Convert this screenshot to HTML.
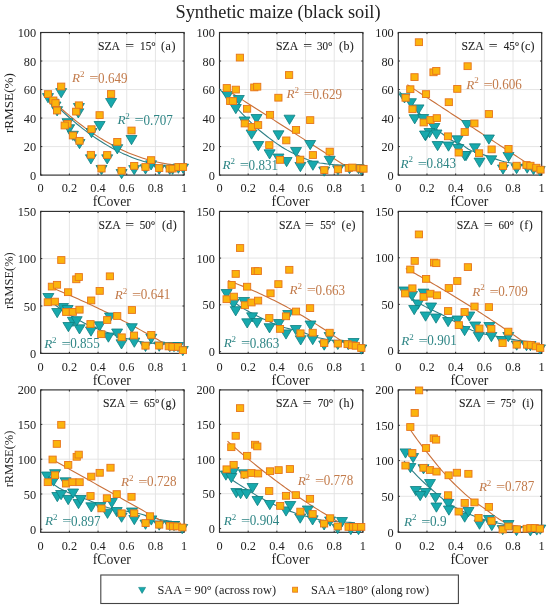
<!DOCTYPE html><html><head><meta charset="utf-8"><style>html,body{margin:0;padding:0;background:#fff;}svg{display:block;filter:blur(0.35px);}text{font-family:"Liberation Serif",serif;}</style></head><body>
<svg width="550" height="608" viewBox="0 0 550 608">
<rect x="0" y="0" width="550" height="608" fill="#fff"/>
<text x="175.5" y="17.6" font-size="18.6" fill="#222" textLength="205" lengthAdjust="spacingAndGlyphs">Synthetic maize (black soil)</text>
<line x1="69.38" y1="32.5" x2="69.38" y2="175.1" stroke="#e2e2e2" stroke-width="0.9"/>
<line x1="98.06" y1="32.5" x2="98.06" y2="175.1" stroke="#e2e2e2" stroke-width="0.9"/>
<line x1="126.74" y1="32.5" x2="126.74" y2="175.1" stroke="#e2e2e2" stroke-width="0.9"/>
<line x1="155.42" y1="32.5" x2="155.42" y2="175.1" stroke="#e2e2e2" stroke-width="0.9"/>
<line x1="40.7" y1="146.58" x2="184.1" y2="146.58" stroke="#e2e2e2" stroke-width="0.9"/>
<line x1="40.7" y1="118.06" x2="184.1" y2="118.06" stroke="#e2e2e2" stroke-width="0.9"/>
<line x1="40.7" y1="89.54" x2="184.1" y2="89.54" stroke="#e2e2e2" stroke-width="0.9"/>
<line x1="40.7" y1="61.02" x2="184.1" y2="61.02" stroke="#e2e2e2" stroke-width="0.9"/>
<line x1="40.7" y1="175.1" x2="40.7" y2="173.5" stroke="#2e2e2e" stroke-width="1"/>
<line x1="40.7" y1="32.5" x2="40.7" y2="34.1" stroke="#2e2e2e" stroke-width="1"/>
<line x1="69.38" y1="175.1" x2="69.38" y2="173.5" stroke="#2e2e2e" stroke-width="1"/>
<line x1="69.38" y1="32.5" x2="69.38" y2="34.1" stroke="#2e2e2e" stroke-width="1"/>
<line x1="98.06" y1="175.1" x2="98.06" y2="173.5" stroke="#2e2e2e" stroke-width="1"/>
<line x1="98.06" y1="32.5" x2="98.06" y2="34.1" stroke="#2e2e2e" stroke-width="1"/>
<line x1="126.74" y1="175.1" x2="126.74" y2="173.5" stroke="#2e2e2e" stroke-width="1"/>
<line x1="126.74" y1="32.5" x2="126.74" y2="34.1" stroke="#2e2e2e" stroke-width="1"/>
<line x1="155.42" y1="175.1" x2="155.42" y2="173.5" stroke="#2e2e2e" stroke-width="1"/>
<line x1="155.42" y1="32.5" x2="155.42" y2="34.1" stroke="#2e2e2e" stroke-width="1"/>
<line x1="184.1" y1="175.1" x2="184.1" y2="173.5" stroke="#2e2e2e" stroke-width="1"/>
<line x1="184.1" y1="32.5" x2="184.1" y2="34.1" stroke="#2e2e2e" stroke-width="1"/>
<line x1="40.7" y1="175.1" x2="42.3" y2="175.1" stroke="#2e2e2e" stroke-width="1"/>
<line x1="184.1" y1="175.1" x2="182.5" y2="175.1" stroke="#2e2e2e" stroke-width="1"/>
<line x1="40.7" y1="146.58" x2="42.3" y2="146.58" stroke="#2e2e2e" stroke-width="1"/>
<line x1="184.1" y1="146.58" x2="182.5" y2="146.58" stroke="#2e2e2e" stroke-width="1"/>
<line x1="40.7" y1="118.06" x2="42.3" y2="118.06" stroke="#2e2e2e" stroke-width="1"/>
<line x1="184.1" y1="118.06" x2="182.5" y2="118.06" stroke="#2e2e2e" stroke-width="1"/>
<line x1="40.7" y1="89.54" x2="42.3" y2="89.54" stroke="#2e2e2e" stroke-width="1"/>
<line x1="184.1" y1="89.54" x2="182.5" y2="89.54" stroke="#2e2e2e" stroke-width="1"/>
<line x1="40.7" y1="61.02" x2="42.3" y2="61.02" stroke="#2e2e2e" stroke-width="1"/>
<line x1="184.1" y1="61.02" x2="182.5" y2="61.02" stroke="#2e2e2e" stroke-width="1"/>
<line x1="40.7" y1="32.5" x2="42.3" y2="32.5" stroke="#2e2e2e" stroke-width="1"/>
<line x1="184.1" y1="32.5" x2="182.5" y2="32.5" stroke="#2e2e2e" stroke-width="1"/>
<text x="40.7" y="192.4" font-size="12.3" fill="#222" text-anchor="middle">0</text>
<text x="69.38" y="192.4" font-size="12.3" fill="#222" text-anchor="middle">0.2</text>
<text x="98.06" y="192.4" font-size="12.3" fill="#222" text-anchor="middle">0.4</text>
<text x="126.74" y="192.4" font-size="12.3" fill="#222" text-anchor="middle">0.6</text>
<text x="155.42" y="192.4" font-size="12.3" fill="#222" text-anchor="middle">0.8</text>
<text x="184.1" y="192.4" font-size="12.3" fill="#222" text-anchor="middle">1</text>
<text x="36.1" y="179.6" font-size="12.3" fill="#222" text-anchor="end">0</text>
<text x="36.1" y="151.08" font-size="12.3" fill="#222" text-anchor="end">20</text>
<text x="36.1" y="122.56" font-size="12.3" fill="#222" text-anchor="end">40</text>
<text x="36.1" y="94.04" font-size="12.3" fill="#222" text-anchor="end">60</text>
<text x="36.1" y="65.52" font-size="12.3" fill="#222" text-anchor="end">80</text>
<text x="36.1" y="37" font-size="12.3" fill="#222" text-anchor="end">100</text>
<text x="111.8" y="206.3" font-size="13.7" fill="#222" text-anchor="middle">fCover</text>
<text transform="translate(13.2,133.1) rotate(-90)" font-size="13.17" fill="#222" textLength="60" lengthAdjust="spacingAndGlyphs">rRMSE(%)</text>
<rect x="40.7" y="32.5" width="143.4" height="142.6" fill="none" stroke="#2e2e2e" stroke-width="1.15"/>
<polyline points="47.01,96 49.75,98.85 52.49,101.65 55.24,104.39 57.98,107.08 60.72,109.7 63.46,112.26 66.2,114.77 68.94,117.22 71.69,119.61 74.43,121.94 77.17,124.21 79.91,126.43 82.65,128.58 85.39,130.68 88.14,132.72 90.88,134.7 93.62,136.62 96.36,138.49 99.1,140.29 101.85,142.04 104.59,143.72 107.33,145.35 110.07,146.93 112.81,148.44 115.55,149.89 118.3,151.29 121.04,152.62 123.78,153.9 126.52,155.12 129.26,156.29 132.01,157.39 134.75,158.43 137.49,159.42 140.23,160.35 142.97,161.22 145.71,162.03 148.46,162.78 151.2,163.47 153.94,164.11 156.68,164.69 159.42,165.2 162.17,165.66 164.91,166.07 167.65,166.41 170.39,166.69 173.13,166.92 175.87,167.09 178.62,167.2 181.36,167.25 184.1,167.24" fill="none" stroke="#2d7f86" stroke-width="1.1"/>
<polyline points="47.01,95.06 49.75,97.76 52.49,100.41 55.24,103.01 57.98,105.55 60.72,108.04 63.46,110.47 66.2,112.86 68.94,115.19 71.69,117.47 74.43,119.7 77.17,121.87 79.91,123.99 82.65,126.06 85.39,128.07 88.14,130.04 90.88,131.95 93.62,133.8 96.36,135.61 99.1,137.36 101.85,139.06 104.59,140.7 107.33,142.3 110.07,143.84 112.81,145.32 115.55,146.76 118.3,148.14 121.04,149.47 123.78,150.75 126.52,151.97 129.26,153.14 132.01,154.26 134.75,155.33 137.49,156.34 140.23,157.3 142.97,158.21 145.71,159.07 148.46,159.87 151.2,160.62 153.94,161.31 156.68,161.96 159.42,162.55 162.17,163.09 164.91,163.57 167.65,164.01 170.39,164.39 173.13,164.72 175.87,164.99 178.62,165.21 181.36,165.38 184.1,165.5" fill="none" stroke="#c9703a" stroke-width="1.1"/>
<path d="M42.5,93.6H53.5L48,102.8Z" fill="#17a9ad" stroke="#0f7f80" stroke-width="0.8"/>
<path d="M55.7,88.6H66.7L61.2,97.8Z" fill="#17a9ad" stroke="#0f7f80" stroke-width="0.8"/>
<path d="M47.8,99.2H58.8L53.3,108.4Z" fill="#17a9ad" stroke="#0f7f80" stroke-width="0.8"/>
<path d="M50,102H61L55.5,111.2Z" fill="#17a9ad" stroke="#0f7f80" stroke-width="0.8"/>
<path d="M51.6,106.7H62.6L57.1,115.9Z" fill="#17a9ad" stroke="#0f7f80" stroke-width="0.8"/>
<path d="M73.4,103.5H84.4L78.9,112.7Z" fill="#17a9ad" stroke="#0f7f80" stroke-width="0.8"/>
<path d="M72.8,108.8H83.8L78.3,118Z" fill="#17a9ad" stroke="#0f7f80" stroke-width="0.8"/>
<path d="M62,118.7H73L67.5,127.9Z" fill="#17a9ad" stroke="#0f7f80" stroke-width="0.8"/>
<path d="M63.7,124.7H74.7L69.2,133.9Z" fill="#17a9ad" stroke="#0f7f80" stroke-width="0.8"/>
<path d="M67.4,131.3H78.4L72.9,140.5Z" fill="#17a9ad" stroke="#0f7f80" stroke-width="0.8"/>
<path d="M74,139.5H85L79.5,148.7Z" fill="#17a9ad" stroke="#0f7f80" stroke-width="0.8"/>
<path d="M86,128.5H97L91.5,137.7Z" fill="#17a9ad" stroke="#0f7f80" stroke-width="0.8"/>
<path d="M94.1,121.5H105.1L99.6,130.7Z" fill="#17a9ad" stroke="#0f7f80" stroke-width="0.8"/>
<path d="M105.6,98.5H116.6L111.1,107.7Z" fill="#17a9ad" stroke="#0f7f80" stroke-width="0.8"/>
<path d="M126,135.5H137L131.5,144.7Z" fill="#17a9ad" stroke="#0f7f80" stroke-width="0.8"/>
<path d="M111.8,144.7H122.8L117.3,153.9Z" fill="#17a9ad" stroke="#0f7f80" stroke-width="0.8"/>
<path d="M85.4,154.8H96.4L90.9,164Z" fill="#17a9ad" stroke="#0f7f80" stroke-width="0.8"/>
<path d="M101.7,154.8H112.7L107.2,164Z" fill="#17a9ad" stroke="#0f7f80" stroke-width="0.8"/>
<path d="M96,165.5H107L101.5,174.7Z" fill="#17a9ad" stroke="#0f7f80" stroke-width="0.8"/>
<path d="M116.1,169.5H127.1L121.6,178.7Z" fill="#17a9ad" stroke="#0f7f80" stroke-width="0.8"/>
<path d="M128.7,165.6H139.7L134.2,174.8Z" fill="#17a9ad" stroke="#0f7f80" stroke-width="0.8"/>
<path d="M140,164.8H151L145.5,174Z" fill="#17a9ad" stroke="#0f7f80" stroke-width="0.8"/>
<path d="M145.6,160.8H156.6L151.1,170Z" fill="#17a9ad" stroke="#0f7f80" stroke-width="0.8"/>
<path d="M153.7,165.2H164.7L159.2,174.4Z" fill="#17a9ad" stroke="#0f7f80" stroke-width="0.8"/>
<path d="M164.2,165.2H175.2L169.7,174.4Z" fill="#17a9ad" stroke="#0f7f80" stroke-width="0.8"/>
<path d="M167.1,165.2H178.1L172.6,174.4Z" fill="#17a9ad" stroke="#0f7f80" stroke-width="0.8"/>
<path d="M172.9,164.1H183.9L178.4,173.3Z" fill="#17a9ad" stroke="#0f7f80" stroke-width="0.8"/>
<path d="M177.5,164.1H188.5L183,173.3Z" fill="#17a9ad" stroke="#0f7f80" stroke-width="0.8"/>
<rect x="44.4" y="90.7" width="7.2" height="6.8" fill="#fbb40c" stroke="#e7741c" stroke-width="0.9"/>
<rect x="57.6" y="83.1" width="7.2" height="6.8" fill="#fbb40c" stroke="#e7741c" stroke-width="0.9"/>
<rect x="49.7" y="97" width="7.2" height="6.8" fill="#fbb40c" stroke="#e7741c" stroke-width="0.9"/>
<rect x="51.9" y="99.7" width="7.2" height="6.8" fill="#fbb40c" stroke="#e7741c" stroke-width="0.9"/>
<rect x="53.5" y="107.1" width="7.2" height="6.8" fill="#fbb40c" stroke="#e7741c" stroke-width="0.9"/>
<rect x="75.3" y="101.9" width="7.2" height="6.8" fill="#fbb40c" stroke="#e7741c" stroke-width="0.9"/>
<rect x="72.6" y="108.2" width="7.2" height="6.8" fill="#fbb40c" stroke="#e7741c" stroke-width="0.9"/>
<rect x="63.9" y="120.4" width="7.2" height="6.8" fill="#fbb40c" stroke="#e7741c" stroke-width="0.9"/>
<rect x="61.1" y="122.1" width="7.2" height="6.8" fill="#fbb40c" stroke="#e7741c" stroke-width="0.9"/>
<rect x="69.3" y="132.1" width="7.2" height="6.8" fill="#fbb40c" stroke="#e7741c" stroke-width="0.9"/>
<rect x="75.9" y="137.4" width="7.2" height="6.8" fill="#fbb40c" stroke="#e7741c" stroke-width="0.9"/>
<rect x="87.9" y="125.8" width="7.2" height="6.8" fill="#fbb40c" stroke="#e7741c" stroke-width="0.9"/>
<rect x="96" y="111.7" width="7.2" height="6.8" fill="#fbb40c" stroke="#e7741c" stroke-width="0.9"/>
<rect x="107.5" y="90.6" width="7.2" height="6.8" fill="#fbb40c" stroke="#e7741c" stroke-width="0.9"/>
<rect x="127.9" y="127.1" width="7.2" height="6.8" fill="#fbb40c" stroke="#e7741c" stroke-width="0.9"/>
<rect x="113.7" y="138.5" width="7.2" height="6.8" fill="#fbb40c" stroke="#e7741c" stroke-width="0.9"/>
<rect x="87.3" y="151.4" width="7.2" height="6.8" fill="#fbb40c" stroke="#e7741c" stroke-width="0.9"/>
<rect x="103.6" y="151.6" width="7.2" height="6.8" fill="#fbb40c" stroke="#e7741c" stroke-width="0.9"/>
<rect x="97.9" y="165.2" width="7.2" height="6.8" fill="#fbb40c" stroke="#e7741c" stroke-width="0.9"/>
<rect x="118" y="167.4" width="7.2" height="6.8" fill="#fbb40c" stroke="#e7741c" stroke-width="0.9"/>
<rect x="130.6" y="162.5" width="7.2" height="6.8" fill="#fbb40c" stroke="#e7741c" stroke-width="0.9"/>
<rect x="141.9" y="163.6" width="7.2" height="6.8" fill="#fbb40c" stroke="#e7741c" stroke-width="0.9"/>
<rect x="147.5" y="156.7" width="7.2" height="6.8" fill="#fbb40c" stroke="#e7741c" stroke-width="0.9"/>
<rect x="155.6" y="164.7" width="7.2" height="6.8" fill="#fbb40c" stroke="#e7741c" stroke-width="0.9"/>
<rect x="166.1" y="165.2" width="7.2" height="6.8" fill="#fbb40c" stroke="#e7741c" stroke-width="0.9"/>
<rect x="169" y="165.2" width="7.2" height="6.8" fill="#fbb40c" stroke="#e7741c" stroke-width="0.9"/>
<rect x="174.8" y="163.6" width="7.2" height="6.8" fill="#fbb40c" stroke="#e7741c" stroke-width="0.9"/>
<rect x="179.4" y="163.6" width="7.2" height="6.8" fill="#fbb40c" stroke="#e7741c" stroke-width="0.9"/>
<text x="97.9" y="50.2" font-size="12.3" fill="#222" stroke="#222" stroke-width="0.12" textLength="22.1" lengthAdjust="spacingAndGlyphs">SZA</text>
<text x="125.3" y="50.2" font-size="12" fill="#222" stroke="#222" stroke-width="0.12" textLength="8.8" lengthAdjust="spacingAndGlyphs">=</text>
<text x="140.1" y="50.2" font-size="12" fill="#222" stroke="#222" stroke-width="0.12" textLength="15.5" lengthAdjust="spacingAndGlyphs">15°</text>
<text x="161" y="50.2" font-size="12" fill="#222" stroke="#222" stroke-width="0.08" textLength="14.5" lengthAdjust="spacing">(a)</text>
<text x="72.1" y="82.4" font-size="13.2" font-style="italic" fill="#c27a4a">R</text>
<text x="80" y="77.2" font-size="9" fill="#c27a4a">2</text>
<text x="89.3" y="82.4" font-size="13" fill="#c27a4a" textLength="9.2" lengthAdjust="spacingAndGlyphs">=</text>
<text x="98.1" y="82.7" font-size="13.6" fill="#c27a4a" textLength="29.5" lengthAdjust="spacingAndGlyphs">0.649</text>
<text x="117.4" y="124.2" font-size="13.2" font-style="italic" fill="#2e8585">R</text>
<text x="125.3" y="119" font-size="9" fill="#2e8585">2</text>
<text x="134.6" y="124.2" font-size="13" fill="#2e8585" textLength="9.2" lengthAdjust="spacingAndGlyphs">=</text>
<text x="143.4" y="124.5" font-size="13.6" fill="#2e8585" textLength="29.5" lengthAdjust="spacingAndGlyphs">0.707</text>
<line x1="248.18" y1="32.5" x2="248.18" y2="175.1" stroke="#e2e2e2" stroke-width="0.9"/>
<line x1="276.86" y1="32.5" x2="276.86" y2="175.1" stroke="#e2e2e2" stroke-width="0.9"/>
<line x1="305.54" y1="32.5" x2="305.54" y2="175.1" stroke="#e2e2e2" stroke-width="0.9"/>
<line x1="334.22" y1="32.5" x2="334.22" y2="175.1" stroke="#e2e2e2" stroke-width="0.9"/>
<line x1="219.5" y1="146.58" x2="362.9" y2="146.58" stroke="#e2e2e2" stroke-width="0.9"/>
<line x1="219.5" y1="118.06" x2="362.9" y2="118.06" stroke="#e2e2e2" stroke-width="0.9"/>
<line x1="219.5" y1="89.54" x2="362.9" y2="89.54" stroke="#e2e2e2" stroke-width="0.9"/>
<line x1="219.5" y1="61.02" x2="362.9" y2="61.02" stroke="#e2e2e2" stroke-width="0.9"/>
<line x1="219.5" y1="175.1" x2="219.5" y2="173.5" stroke="#2e2e2e" stroke-width="1"/>
<line x1="219.5" y1="32.5" x2="219.5" y2="34.1" stroke="#2e2e2e" stroke-width="1"/>
<line x1="248.18" y1="175.1" x2="248.18" y2="173.5" stroke="#2e2e2e" stroke-width="1"/>
<line x1="248.18" y1="32.5" x2="248.18" y2="34.1" stroke="#2e2e2e" stroke-width="1"/>
<line x1="276.86" y1="175.1" x2="276.86" y2="173.5" stroke="#2e2e2e" stroke-width="1"/>
<line x1="276.86" y1="32.5" x2="276.86" y2="34.1" stroke="#2e2e2e" stroke-width="1"/>
<line x1="305.54" y1="175.1" x2="305.54" y2="173.5" stroke="#2e2e2e" stroke-width="1"/>
<line x1="305.54" y1="32.5" x2="305.54" y2="34.1" stroke="#2e2e2e" stroke-width="1"/>
<line x1="334.22" y1="175.1" x2="334.22" y2="173.5" stroke="#2e2e2e" stroke-width="1"/>
<line x1="334.22" y1="32.5" x2="334.22" y2="34.1" stroke="#2e2e2e" stroke-width="1"/>
<line x1="362.9" y1="175.1" x2="362.9" y2="173.5" stroke="#2e2e2e" stroke-width="1"/>
<line x1="362.9" y1="32.5" x2="362.9" y2="34.1" stroke="#2e2e2e" stroke-width="1"/>
<line x1="219.5" y1="175.1" x2="221.1" y2="175.1" stroke="#2e2e2e" stroke-width="1"/>
<line x1="362.9" y1="175.1" x2="361.3" y2="175.1" stroke="#2e2e2e" stroke-width="1"/>
<line x1="219.5" y1="146.58" x2="221.1" y2="146.58" stroke="#2e2e2e" stroke-width="1"/>
<line x1="362.9" y1="146.58" x2="361.3" y2="146.58" stroke="#2e2e2e" stroke-width="1"/>
<line x1="219.5" y1="118.06" x2="221.1" y2="118.06" stroke="#2e2e2e" stroke-width="1"/>
<line x1="362.9" y1="118.06" x2="361.3" y2="118.06" stroke="#2e2e2e" stroke-width="1"/>
<line x1="219.5" y1="89.54" x2="221.1" y2="89.54" stroke="#2e2e2e" stroke-width="1"/>
<line x1="362.9" y1="89.54" x2="361.3" y2="89.54" stroke="#2e2e2e" stroke-width="1"/>
<line x1="219.5" y1="61.02" x2="221.1" y2="61.02" stroke="#2e2e2e" stroke-width="1"/>
<line x1="362.9" y1="61.02" x2="361.3" y2="61.02" stroke="#2e2e2e" stroke-width="1"/>
<line x1="219.5" y1="32.5" x2="221.1" y2="32.5" stroke="#2e2e2e" stroke-width="1"/>
<line x1="362.9" y1="32.5" x2="361.3" y2="32.5" stroke="#2e2e2e" stroke-width="1"/>
<text x="219.5" y="192.4" font-size="12.3" fill="#222" text-anchor="middle">0</text>
<text x="248.18" y="192.4" font-size="12.3" fill="#222" text-anchor="middle">0.2</text>
<text x="276.86" y="192.4" font-size="12.3" fill="#222" text-anchor="middle">0.4</text>
<text x="305.54" y="192.4" font-size="12.3" fill="#222" text-anchor="middle">0.6</text>
<text x="334.22" y="192.4" font-size="12.3" fill="#222" text-anchor="middle">0.8</text>
<text x="362.9" y="192.4" font-size="12.3" fill="#222" text-anchor="middle">1</text>
<text x="214.9" y="179.6" font-size="12.3" fill="#222" text-anchor="end">0</text>
<text x="214.9" y="151.08" font-size="12.3" fill="#222" text-anchor="end">20</text>
<text x="214.9" y="122.56" font-size="12.3" fill="#222" text-anchor="end">40</text>
<text x="214.9" y="94.04" font-size="12.3" fill="#222" text-anchor="end">60</text>
<text x="214.9" y="65.52" font-size="12.3" fill="#222" text-anchor="end">80</text>
<text x="214.9" y="37" font-size="12.3" fill="#222" text-anchor="end">100</text>
<text x="290.6" y="206.3" font-size="13.7" fill="#222" text-anchor="middle">fCover</text>
<rect x="219.5" y="32.5" width="143.4" height="142.6" fill="none" stroke="#2e2e2e" stroke-width="1.15"/>
<polyline points="219.5,88.83 222.01,91.74 224.51,94.61 227.02,97.44 229.53,100.22 232.03,102.97 234.54,105.67 237.05,108.32 239.55,110.92 242.06,113.52 244.57,116.11 247.07,118.67 249.58,121.19 252.09,123.65 254.59,126.03 257.1,128.3 259.61,130.46 262.11,132.5 264.62,134.5 267.13,136.47 269.63,138.4 272.14,140.28 274.65,142.11 277.15,143.87 279.66,145.56 282.17,147.18 284.67,148.7 287.18,150.13 289.69,151.46 292.19,152.69 294.7,153.91 297.21,155.11 299.71,156.29 302.22,157.42 304.73,158.5 307.23,159.51 309.74,160.43 312.25,161.25 314.75,161.96 317.26,162.53 319.77,162.96 322.27,163.3 324.78,163.63 327.29,163.94 329.79,164.22 332.3,164.47 334.81,164.69 337.31,164.87 339.82,165 342.32,165.09 344.83,165.12" fill="none" stroke="#2d7f86" stroke-width="1.1"/>
<polyline points="226.67,89.77 229.04,91.29 231.41,92.81 233.79,94.33 236.16,95.85 238.53,97.37 240.9,98.89 243.27,100.4 245.64,101.92 248.02,103.44 250.39,104.96 252.76,106.48 255.13,108 257.5,109.52 259.88,111.04 262.25,112.56 264.62,114.08 266.99,115.6 269.36,117.12 271.73,118.64 274.11,120.16 276.48,121.68 278.85,123.2 281.22,124.72 283.59,126.24 285.97,127.76 288.34,129.28 290.71,130.8 293.08,132.32 295.45,133.83 297.83,135.35 300.2,136.87 302.57,138.39 304.94,139.91 307.31,141.43 309.68,142.95 312.06,144.47 314.43,145.99 316.8,147.51 319.17,149.03 321.54,150.55 323.92,152.07 326.29,153.59 328.66,155.11 331.03,156.63 333.4,158.15 335.77,159.67 338.15,161.19 340.52,162.71 342.89,164.23 345.26,165.75" fill="none" stroke="#c9703a" stroke-width="1.1"/>
<path d="M222,91.5H233L227.5,100.7Z" fill="#17a9ad" stroke="#0f7f80" stroke-width="0.8"/>
<path d="M233.3,95.5H244.3L238.8,104.7Z" fill="#17a9ad" stroke="#0f7f80" stroke-width="0.8"/>
<path d="M230.3,104.5H241.3L235.8,113.7Z" fill="#17a9ad" stroke="#0f7f80" stroke-width="0.8"/>
<path d="M239,117H250L244.5,126.2Z" fill="#17a9ad" stroke="#0f7f80" stroke-width="0.8"/>
<path d="M251,114.5H262L256.5,123.7Z" fill="#17a9ad" stroke="#0f7f80" stroke-width="0.8"/>
<path d="M246.1,130H257.1L251.6,139.2Z" fill="#17a9ad" stroke="#0f7f80" stroke-width="0.8"/>
<path d="M284,115.2H295L289.5,124.4Z" fill="#17a9ad" stroke="#0f7f80" stroke-width="0.8"/>
<path d="M273,130.8H284L278.5,140Z" fill="#17a9ad" stroke="#0f7f80" stroke-width="0.8"/>
<path d="M252.8,141.5H263.8L258.3,150.7Z" fill="#17a9ad" stroke="#0f7f80" stroke-width="0.8"/>
<path d="M264.1,149.8H275.1L269.6,159Z" fill="#17a9ad" stroke="#0f7f80" stroke-width="0.8"/>
<path d="M290.5,147.5H301.5L296,156.7Z" fill="#17a9ad" stroke="#0f7f80" stroke-width="0.8"/>
<path d="M304.7,140.5H315.7L310.2,149.7Z" fill="#17a9ad" stroke="#0f7f80" stroke-width="0.8"/>
<path d="M281.1,157.5H292.1L286.6,166.7Z" fill="#17a9ad" stroke="#0f7f80" stroke-width="0.8"/>
<path d="M294.9,162.5H305.9L300.4,171.7Z" fill="#17a9ad" stroke="#0f7f80" stroke-width="0.8"/>
<path d="M307.4,161.1H318.4L312.9,170.3Z" fill="#17a9ad" stroke="#0f7f80" stroke-width="0.8"/>
<path d="M324.2,156.3H335.2L329.7,165.5Z" fill="#17a9ad" stroke="#0f7f80" stroke-width="0.8"/>
<path d="M318.7,167H329.7L324.2,176.2Z" fill="#17a9ad" stroke="#0f7f80" stroke-width="0.8"/>
<path d="M332.5,165.7H343.5L338,174.9Z" fill="#17a9ad" stroke="#0f7f80" stroke-width="0.8"/>
<path d="M344,164.5H355L349.5,173.7Z" fill="#17a9ad" stroke="#0f7f80" stroke-width="0.8"/>
<path d="M353,164.5H364L358.5,173.7Z" fill="#17a9ad" stroke="#0f7f80" stroke-width="0.8"/>
<path d="M355.7,165.7H366.7L361.2,174.9Z" fill="#17a9ad" stroke="#0f7f80" stroke-width="0.8"/>
<path d="M273,154H284L278.5,163.2Z" fill="#17a9ad" stroke="#0f7f80" stroke-width="0.8"/>
<rect x="236.3" y="54.2" width="7.2" height="6.8" fill="#fbb40c" stroke="#e7741c" stroke-width="0.9"/>
<rect x="285.5" y="71.6" width="7.2" height="6.8" fill="#fbb40c" stroke="#e7741c" stroke-width="0.9"/>
<rect x="223.2" y="84.6" width="7.2" height="6.8" fill="#fbb40c" stroke="#e7741c" stroke-width="0.9"/>
<rect x="232.2" y="86.2" width="7.2" height="6.8" fill="#fbb40c" stroke="#e7741c" stroke-width="0.9"/>
<rect x="250.7" y="84" width="7.2" height="6.8" fill="#fbb40c" stroke="#e7741c" stroke-width="0.9"/>
<rect x="253.6" y="83.3" width="7.2" height="6.8" fill="#fbb40c" stroke="#e7741c" stroke-width="0.9"/>
<rect x="274.8" y="94.3" width="7.2" height="6.8" fill="#fbb40c" stroke="#e7741c" stroke-width="0.9"/>
<rect x="226.6" y="97.7" width="7.2" height="6.8" fill="#fbb40c" stroke="#e7741c" stroke-width="0.9"/>
<rect x="229.3" y="97.7" width="7.2" height="6.8" fill="#fbb40c" stroke="#e7741c" stroke-width="0.9"/>
<rect x="243.5" y="105.4" width="7.2" height="6.8" fill="#fbb40c" stroke="#e7741c" stroke-width="0.9"/>
<rect x="266.4" y="111.4" width="7.2" height="6.8" fill="#fbb40c" stroke="#e7741c" stroke-width="0.9"/>
<rect x="306.6" y="116.7" width="7.2" height="6.8" fill="#fbb40c" stroke="#e7741c" stroke-width="0.9"/>
<rect x="241.2" y="120.1" width="7.2" height="6.8" fill="#fbb40c" stroke="#e7741c" stroke-width="0.9"/>
<rect x="248.2" y="123.6" width="7.2" height="6.8" fill="#fbb40c" stroke="#e7741c" stroke-width="0.9"/>
<rect x="254.5" y="121.6" width="7.2" height="6.8" fill="#fbb40c" stroke="#e7741c" stroke-width="0.9"/>
<rect x="292.4" y="126.5" width="7.2" height="6.8" fill="#fbb40c" stroke="#e7741c" stroke-width="0.9"/>
<rect x="282.7" y="137" width="7.2" height="6.8" fill="#fbb40c" stroke="#e7741c" stroke-width="0.9"/>
<rect x="265.7" y="141.7" width="7.2" height="6.8" fill="#fbb40c" stroke="#e7741c" stroke-width="0.9"/>
<rect x="309.3" y="151.6" width="7.2" height="6.8" fill="#fbb40c" stroke="#e7741c" stroke-width="0.9"/>
<rect x="326.1" y="148.2" width="7.2" height="6.8" fill="#fbb40c" stroke="#e7741c" stroke-width="0.9"/>
<rect x="296.6" y="156.2" width="7.2" height="6.8" fill="#fbb40c" stroke="#e7741c" stroke-width="0.9"/>
<rect x="276.4" y="156.5" width="7.2" height="6.8" fill="#fbb40c" stroke="#e7741c" stroke-width="0.9"/>
<rect x="320.7" y="166.7" width="7.2" height="6.8" fill="#fbb40c" stroke="#e7741c" stroke-width="0.9"/>
<rect x="334.4" y="166" width="7.2" height="6.8" fill="#fbb40c" stroke="#e7741c" stroke-width="0.9"/>
<rect x="345.2" y="164.5" width="7.2" height="6.8" fill="#fbb40c" stroke="#e7741c" stroke-width="0.9"/>
<rect x="348.7" y="164.1" width="7.2" height="6.8" fill="#fbb40c" stroke="#e7741c" stroke-width="0.9"/>
<rect x="356.8" y="165" width="7.2" height="6.8" fill="#fbb40c" stroke="#e7741c" stroke-width="0.9"/>
<rect x="359.9" y="165.4" width="7.2" height="6.8" fill="#fbb40c" stroke="#e7741c" stroke-width="0.9"/>
<text x="276.1" y="50.2" font-size="12.3" fill="#222" stroke="#222" stroke-width="0.12" textLength="22.1" lengthAdjust="spacingAndGlyphs">SZA</text>
<text x="303.3" y="50.2" font-size="12" fill="#222" stroke="#222" stroke-width="0.12" textLength="8.8" lengthAdjust="spacingAndGlyphs">=</text>
<text x="317" y="50.2" font-size="12" fill="#222" stroke="#222" stroke-width="0.12" textLength="15.5" lengthAdjust="spacingAndGlyphs">30°</text>
<text x="339.1" y="50.2" font-size="12" fill="#222" stroke="#222" stroke-width="0.08" textLength="14.7" lengthAdjust="spacing">(b)</text>
<text x="222.6" y="169.3" font-size="13.2" font-style="italic" fill="#2e8585">R</text>
<text x="230.5" y="164.1" font-size="9" fill="#2e8585">2</text>
<text x="239.8" y="169.3" font-size="13" fill="#2e8585" textLength="9.2" lengthAdjust="spacingAndGlyphs">=</text>
<text x="248.6" y="169.6" font-size="13.6" fill="#2e8585" textLength="29.5" lengthAdjust="spacingAndGlyphs">0.831</text>
<text x="286.5" y="98.2" font-size="13.2" font-style="italic" fill="#c27a4a">R</text>
<text x="294.4" y="93" font-size="9" fill="#c27a4a">2</text>
<text x="303.7" y="98.2" font-size="13" fill="#c27a4a" textLength="9.2" lengthAdjust="spacingAndGlyphs">=</text>
<text x="312.5" y="98.5" font-size="13.6" fill="#c27a4a" textLength="29.5" lengthAdjust="spacingAndGlyphs">0.629</text>
<line x1="426.98" y1="32.5" x2="426.98" y2="175.1" stroke="#e2e2e2" stroke-width="0.9"/>
<line x1="455.66" y1="32.5" x2="455.66" y2="175.1" stroke="#e2e2e2" stroke-width="0.9"/>
<line x1="484.34" y1="32.5" x2="484.34" y2="175.1" stroke="#e2e2e2" stroke-width="0.9"/>
<line x1="513.02" y1="32.5" x2="513.02" y2="175.1" stroke="#e2e2e2" stroke-width="0.9"/>
<line x1="398.3" y1="146.58" x2="541.7" y2="146.58" stroke="#e2e2e2" stroke-width="0.9"/>
<line x1="398.3" y1="118.06" x2="541.7" y2="118.06" stroke="#e2e2e2" stroke-width="0.9"/>
<line x1="398.3" y1="89.54" x2="541.7" y2="89.54" stroke="#e2e2e2" stroke-width="0.9"/>
<line x1="398.3" y1="61.02" x2="541.7" y2="61.02" stroke="#e2e2e2" stroke-width="0.9"/>
<line x1="398.3" y1="175.1" x2="398.3" y2="173.5" stroke="#2e2e2e" stroke-width="1"/>
<line x1="398.3" y1="32.5" x2="398.3" y2="34.1" stroke="#2e2e2e" stroke-width="1"/>
<line x1="426.98" y1="175.1" x2="426.98" y2="173.5" stroke="#2e2e2e" stroke-width="1"/>
<line x1="426.98" y1="32.5" x2="426.98" y2="34.1" stroke="#2e2e2e" stroke-width="1"/>
<line x1="455.66" y1="175.1" x2="455.66" y2="173.5" stroke="#2e2e2e" stroke-width="1"/>
<line x1="455.66" y1="32.5" x2="455.66" y2="34.1" stroke="#2e2e2e" stroke-width="1"/>
<line x1="484.34" y1="175.1" x2="484.34" y2="173.5" stroke="#2e2e2e" stroke-width="1"/>
<line x1="484.34" y1="32.5" x2="484.34" y2="34.1" stroke="#2e2e2e" stroke-width="1"/>
<line x1="513.02" y1="175.1" x2="513.02" y2="173.5" stroke="#2e2e2e" stroke-width="1"/>
<line x1="513.02" y1="32.5" x2="513.02" y2="34.1" stroke="#2e2e2e" stroke-width="1"/>
<line x1="541.7" y1="175.1" x2="541.7" y2="173.5" stroke="#2e2e2e" stroke-width="1"/>
<line x1="541.7" y1="32.5" x2="541.7" y2="34.1" stroke="#2e2e2e" stroke-width="1"/>
<line x1="398.3" y1="175.1" x2="399.9" y2="175.1" stroke="#2e2e2e" stroke-width="1"/>
<line x1="541.7" y1="175.1" x2="540.1" y2="175.1" stroke="#2e2e2e" stroke-width="1"/>
<line x1="398.3" y1="146.58" x2="399.9" y2="146.58" stroke="#2e2e2e" stroke-width="1"/>
<line x1="541.7" y1="146.58" x2="540.1" y2="146.58" stroke="#2e2e2e" stroke-width="1"/>
<line x1="398.3" y1="118.06" x2="399.9" y2="118.06" stroke="#2e2e2e" stroke-width="1"/>
<line x1="541.7" y1="118.06" x2="540.1" y2="118.06" stroke="#2e2e2e" stroke-width="1"/>
<line x1="398.3" y1="89.54" x2="399.9" y2="89.54" stroke="#2e2e2e" stroke-width="1"/>
<line x1="541.7" y1="89.54" x2="540.1" y2="89.54" stroke="#2e2e2e" stroke-width="1"/>
<line x1="398.3" y1="61.02" x2="399.9" y2="61.02" stroke="#2e2e2e" stroke-width="1"/>
<line x1="541.7" y1="61.02" x2="540.1" y2="61.02" stroke="#2e2e2e" stroke-width="1"/>
<line x1="398.3" y1="32.5" x2="399.9" y2="32.5" stroke="#2e2e2e" stroke-width="1"/>
<line x1="541.7" y1="32.5" x2="540.1" y2="32.5" stroke="#2e2e2e" stroke-width="1"/>
<text x="398.3" y="192.4" font-size="12.3" fill="#222" text-anchor="middle">0</text>
<text x="426.98" y="192.4" font-size="12.3" fill="#222" text-anchor="middle">0.2</text>
<text x="455.66" y="192.4" font-size="12.3" fill="#222" text-anchor="middle">0.4</text>
<text x="484.34" y="192.4" font-size="12.3" fill="#222" text-anchor="middle">0.6</text>
<text x="513.02" y="192.4" font-size="12.3" fill="#222" text-anchor="middle">0.8</text>
<text x="541.7" y="192.4" font-size="12.3" fill="#222" text-anchor="middle">1</text>
<text x="393.7" y="179.6" font-size="12.3" fill="#222" text-anchor="end">0</text>
<text x="393.7" y="151.08" font-size="12.3" fill="#222" text-anchor="end">20</text>
<text x="393.7" y="122.56" font-size="12.3" fill="#222" text-anchor="end">40</text>
<text x="393.7" y="94.04" font-size="12.3" fill="#222" text-anchor="end">60</text>
<text x="393.7" y="65.52" font-size="12.3" fill="#222" text-anchor="end">80</text>
<text x="393.7" y="37" font-size="12.3" fill="#222" text-anchor="end">100</text>
<text x="469.4" y="206.3" font-size="13.7" fill="#222" text-anchor="middle">fCover</text>
<rect x="398.3" y="32.5" width="143.4" height="142.6" fill="none" stroke="#2e2e2e" stroke-width="1.15"/>
<polyline points="399.45,91.68 402.01,94.67 404.56,97.6 407.12,100.47 409.68,103.29 412.24,106.04 414.8,108.73 417.35,111.34 419.91,113.88 422.47,116.38 425.03,118.84 427.59,121.27 430.15,123.64 432.7,125.94 435.26,128.17 437.82,130.3 440.38,132.34 442.94,134.28 445.5,136.19 448.05,138.02 450.61,139.68 453.17,141.09 455.73,142.13 458.29,142.94 460.85,144.02 463.4,145.64 465.96,147.49 468.52,149.21 471.08,150.48 473.64,151.52 476.19,152.44 478.75,153.27 481.31,154.08 483.87,154.89 486.43,155.74 488.99,156.64 491.54,157.57 494.1,158.48 496.66,159.38 499.22,160.22 501.78,161 504.34,161.68 506.89,162.25 509.45,162.73 512.01,163.18 514.57,163.61 517.13,164 519.69,164.34 522.24,164.65 524.8,164.91 527.36,165.12" fill="none" stroke="#2d7f86" stroke-width="1.1"/>
<polyline points="407.33,84.69 409.7,86.24 412.07,87.79 414.43,89.35 416.8,90.9 419.16,92.45 421.53,94 423.9,95.55 426.26,97.1 428.63,98.65 431,100.21 433.36,101.76 435.73,103.31 438.09,104.86 440.46,106.41 442.83,107.96 445.19,109.52 447.56,111.07 449.92,112.62 452.29,114.17 454.66,115.72 457.02,117.27 459.39,118.82 461.75,120.38 464.12,121.93 466.49,123.48 468.85,125.03 471.22,126.58 473.59,128.13 475.95,129.68 478.32,131.24 480.68,132.79 483.05,134.34 485.42,135.89 487.78,137.44 490.15,138.99 492.51,140.55 494.88,142.1 497.25,143.65 499.61,145.2 501.98,146.75 504.34,148.3 506.71,149.85 509.08,151.41 511.44,152.96 513.81,154.51 516.17,156.06 518.54,157.61 520.91,159.16 523.27,160.71 525.64,162.27" fill="none" stroke="#c9703a" stroke-width="1.1"/>
<path d="M399,93.8H410L404.5,103Z" fill="#17a9ad" stroke="#0f7f80" stroke-width="0.8"/>
<path d="M405.4,98.7H416.4L410.9,107.9Z" fill="#17a9ad" stroke="#0f7f80" stroke-width="0.8"/>
<path d="M413,104.9H424L418.5,114.1Z" fill="#17a9ad" stroke="#0f7f80" stroke-width="0.8"/>
<path d="M409.2,114.7H420.2L414.7,123.9Z" fill="#17a9ad" stroke="#0f7f80" stroke-width="0.8"/>
<path d="M417.7,114.5H428.7L423.2,123.7Z" fill="#17a9ad" stroke="#0f7f80" stroke-width="0.8"/>
<path d="M428.9,123.5H439.9L434.4,132.7Z" fill="#17a9ad" stroke="#0f7f80" stroke-width="0.8"/>
<path d="M420.1,131.5H431.1L425.6,140.7Z" fill="#17a9ad" stroke="#0f7f80" stroke-width="0.8"/>
<path d="M424,128.5H435L429.5,137.7Z" fill="#17a9ad" stroke="#0f7f80" stroke-width="0.8"/>
<path d="M431,130H442L436.5,139.2Z" fill="#17a9ad" stroke="#0f7f80" stroke-width="0.8"/>
<path d="M432.1,141.5H443.1L437.6,150.7Z" fill="#17a9ad" stroke="#0f7f80" stroke-width="0.8"/>
<path d="M443,142H454L448.5,151.2Z" fill="#17a9ad" stroke="#0f7f80" stroke-width="0.8"/>
<path d="M419.5,131H430.5L425,140.2Z" fill="#17a9ad" stroke="#0f7f80" stroke-width="0.8"/>
<path d="M452.1,135.8H463.1L457.6,145Z" fill="#17a9ad" stroke="#0f7f80" stroke-width="0.8"/>
<path d="M460.5,151.5H471.5L466,160.7Z" fill="#17a9ad" stroke="#0f7f80" stroke-width="0.8"/>
<path d="M452.8,144.5H463.8L458.3,153.7Z" fill="#17a9ad" stroke="#0f7f80" stroke-width="0.8"/>
<path d="M461.7,120.5H472.7L467.2,129.7Z" fill="#17a9ad" stroke="#0f7f80" stroke-width="0.8"/>
<path d="M483.4,135H494.4L488.9,144.2Z" fill="#17a9ad" stroke="#0f7f80" stroke-width="0.8"/>
<path d="M469.4,143.8H480.4L474.9,153Z" fill="#17a9ad" stroke="#0f7f80" stroke-width="0.8"/>
<path d="M459.2,151.5H470.2L464.7,160.7Z" fill="#17a9ad" stroke="#0f7f80" stroke-width="0.8"/>
<path d="M474,158.1H485L479.5,167.3Z" fill="#17a9ad" stroke="#0f7f80" stroke-width="0.8"/>
<path d="M485.8,155.8H496.8L491.3,165Z" fill="#17a9ad" stroke="#0f7f80" stroke-width="0.8"/>
<path d="M503,152.5H514L508.5,161.7Z" fill="#17a9ad" stroke="#0f7f80" stroke-width="0.8"/>
<path d="M497.5,165H508.5L503,174.2Z" fill="#17a9ad" stroke="#0f7f80" stroke-width="0.8"/>
<path d="M511.1,164.5H522.1L516.6,173.7Z" fill="#17a9ad" stroke="#0f7f80" stroke-width="0.8"/>
<path d="M521.7,164H532.7L527.2,173.2Z" fill="#17a9ad" stroke="#0f7f80" stroke-width="0.8"/>
<path d="M528,165.5H539L533.5,174.7Z" fill="#17a9ad" stroke="#0f7f80" stroke-width="0.8"/>
<path d="M534.2,166.5H545.2L539.7,175.7Z" fill="#17a9ad" stroke="#0f7f80" stroke-width="0.8"/>
<rect x="415.3" y="38.8" width="7.2" height="6.8" fill="#fbb40c" stroke="#e7741c" stroke-width="0.9"/>
<rect x="429.9" y="68.9" width="7.2" height="6.8" fill="#fbb40c" stroke="#e7741c" stroke-width="0.9"/>
<rect x="432.7" y="67.5" width="7.2" height="6.8" fill="#fbb40c" stroke="#e7741c" stroke-width="0.9"/>
<rect x="410.9" y="73.7" width="7.2" height="6.8" fill="#fbb40c" stroke="#e7741c" stroke-width="0.9"/>
<rect x="464" y="62.8" width="7.2" height="6.8" fill="#fbb40c" stroke="#e7741c" stroke-width="0.9"/>
<rect x="406.7" y="85.8" width="7.2" height="6.8" fill="#fbb40c" stroke="#e7741c" stroke-width="0.9"/>
<rect x="422.4" y="90.7" width="7.2" height="6.8" fill="#fbb40c" stroke="#e7741c" stroke-width="0.9"/>
<rect x="453.7" y="85.5" width="7.2" height="6.8" fill="#fbb40c" stroke="#e7741c" stroke-width="0.9"/>
<rect x="402" y="94.4" width="7.2" height="6.8" fill="#fbb40c" stroke="#e7741c" stroke-width="0.9"/>
<rect x="445.2" y="98.8" width="7.2" height="6.8" fill="#fbb40c" stroke="#e7741c" stroke-width="0.9"/>
<rect x="408.9" y="105.8" width="7.2" height="6.8" fill="#fbb40c" stroke="#e7741c" stroke-width="0.9"/>
<rect x="420.1" y="119.1" width="7.2" height="6.8" fill="#fbb40c" stroke="#e7741c" stroke-width="0.9"/>
<rect x="426.9" y="116.6" width="7.2" height="6.8" fill="#fbb40c" stroke="#e7741c" stroke-width="0.9"/>
<rect x="433.2" y="114.7" width="7.2" height="6.8" fill="#fbb40c" stroke="#e7741c" stroke-width="0.9"/>
<rect x="444.4" y="132.9" width="7.2" height="6.8" fill="#fbb40c" stroke="#e7741c" stroke-width="0.9"/>
<rect x="461.1" y="128.6" width="7.2" height="6.8" fill="#fbb40c" stroke="#e7741c" stroke-width="0.9"/>
<rect x="455.1" y="149.2" width="7.2" height="6.8" fill="#fbb40c" stroke="#e7741c" stroke-width="0.9"/>
<rect x="470.8" y="120" width="7.2" height="6.8" fill="#fbb40c" stroke="#e7741c" stroke-width="0.9"/>
<rect x="485.3" y="110.6" width="7.2" height="6.8" fill="#fbb40c" stroke="#e7741c" stroke-width="0.9"/>
<rect x="475.5" y="149.8" width="7.2" height="6.8" fill="#fbb40c" stroke="#e7741c" stroke-width="0.9"/>
<rect x="488" y="146" width="7.2" height="6.8" fill="#fbb40c" stroke="#e7741c" stroke-width="0.9"/>
<rect x="504.9" y="145.5" width="7.2" height="6.8" fill="#fbb40c" stroke="#e7741c" stroke-width="0.9"/>
<rect x="499.4" y="162.7" width="7.2" height="6.8" fill="#fbb40c" stroke="#e7741c" stroke-width="0.9"/>
<rect x="513" y="162.3" width="7.2" height="6.8" fill="#fbb40c" stroke="#e7741c" stroke-width="0.9"/>
<rect x="522.9" y="161.6" width="7.2" height="6.8" fill="#fbb40c" stroke="#e7741c" stroke-width="0.9"/>
<rect x="526.8" y="162.3" width="7.2" height="6.8" fill="#fbb40c" stroke="#e7741c" stroke-width="0.9"/>
<rect x="532.7" y="164.3" width="7.2" height="6.8" fill="#fbb40c" stroke="#e7741c" stroke-width="0.9"/>
<rect x="536.9" y="166.3" width="7.2" height="6.8" fill="#fbb40c" stroke="#e7741c" stroke-width="0.9"/>
<text x="461.5" y="50.2" font-size="12.3" fill="#222" stroke="#222" stroke-width="0.12" textLength="22.1" lengthAdjust="spacingAndGlyphs">SZA</text>
<text x="488.8" y="50.2" font-size="12" fill="#222" stroke="#222" stroke-width="0.12" textLength="8.8" lengthAdjust="spacingAndGlyphs">=</text>
<text x="503.7" y="50.2" font-size="12" fill="#222" stroke="#222" stroke-width="0.12" textLength="15.5" lengthAdjust="spacingAndGlyphs">45°</text>
<text x="520.9" y="50.2" font-size="12" fill="#222" stroke="#222" stroke-width="0.08" textLength="13.5" lengthAdjust="spacing">(c)</text>
<text x="400.6" y="167.6" font-size="13.2" font-style="italic" fill="#2e8585">R</text>
<text x="408.5" y="162.4" font-size="9" fill="#2e8585">2</text>
<text x="417.8" y="167.6" font-size="13" fill="#2e8585" textLength="9.2" lengthAdjust="spacingAndGlyphs">=</text>
<text x="426.6" y="167.9" font-size="13.6" fill="#2e8585" textLength="29.5" lengthAdjust="spacingAndGlyphs">0.843</text>
<text x="466.3" y="88.6" font-size="13.2" font-style="italic" fill="#c27a4a">R</text>
<text x="474.2" y="83.4" font-size="9" fill="#c27a4a">2</text>
<text x="483.5" y="88.6" font-size="13" fill="#c27a4a" textLength="9.2" lengthAdjust="spacingAndGlyphs">=</text>
<text x="492.3" y="88.9" font-size="13.6" fill="#c27a4a" textLength="29.5" lengthAdjust="spacingAndGlyphs">0.606</text>
<line x1="69.38" y1="211.4" x2="69.38" y2="353.4" stroke="#e2e2e2" stroke-width="0.9"/>
<line x1="98.06" y1="211.4" x2="98.06" y2="353.4" stroke="#e2e2e2" stroke-width="0.9"/>
<line x1="126.74" y1="211.4" x2="126.74" y2="353.4" stroke="#e2e2e2" stroke-width="0.9"/>
<line x1="155.42" y1="211.4" x2="155.42" y2="353.4" stroke="#e2e2e2" stroke-width="0.9"/>
<line x1="40.7" y1="306" x2="184.1" y2="306" stroke="#e2e2e2" stroke-width="0.9"/>
<line x1="40.7" y1="258.6" x2="184.1" y2="258.6" stroke="#e2e2e2" stroke-width="0.9"/>
<line x1="40.7" y1="353.4" x2="40.7" y2="351.8" stroke="#2e2e2e" stroke-width="1"/>
<line x1="40.7" y1="211.4" x2="40.7" y2="213" stroke="#2e2e2e" stroke-width="1"/>
<line x1="69.38" y1="353.4" x2="69.38" y2="351.8" stroke="#2e2e2e" stroke-width="1"/>
<line x1="69.38" y1="211.4" x2="69.38" y2="213" stroke="#2e2e2e" stroke-width="1"/>
<line x1="98.06" y1="353.4" x2="98.06" y2="351.8" stroke="#2e2e2e" stroke-width="1"/>
<line x1="98.06" y1="211.4" x2="98.06" y2="213" stroke="#2e2e2e" stroke-width="1"/>
<line x1="126.74" y1="353.4" x2="126.74" y2="351.8" stroke="#2e2e2e" stroke-width="1"/>
<line x1="126.74" y1="211.4" x2="126.74" y2="213" stroke="#2e2e2e" stroke-width="1"/>
<line x1="155.42" y1="353.4" x2="155.42" y2="351.8" stroke="#2e2e2e" stroke-width="1"/>
<line x1="155.42" y1="211.4" x2="155.42" y2="213" stroke="#2e2e2e" stroke-width="1"/>
<line x1="184.1" y1="353.4" x2="184.1" y2="351.8" stroke="#2e2e2e" stroke-width="1"/>
<line x1="184.1" y1="211.4" x2="184.1" y2="213" stroke="#2e2e2e" stroke-width="1"/>
<line x1="40.7" y1="353.3" x2="42.3" y2="353.3" stroke="#2e2e2e" stroke-width="1"/>
<line x1="184.1" y1="353.3" x2="182.5" y2="353.3" stroke="#2e2e2e" stroke-width="1"/>
<line x1="40.7" y1="306" x2="42.3" y2="306" stroke="#2e2e2e" stroke-width="1"/>
<line x1="184.1" y1="306" x2="182.5" y2="306" stroke="#2e2e2e" stroke-width="1"/>
<line x1="40.7" y1="258.6" x2="42.3" y2="258.6" stroke="#2e2e2e" stroke-width="1"/>
<line x1="184.1" y1="258.6" x2="182.5" y2="258.6" stroke="#2e2e2e" stroke-width="1"/>
<line x1="40.7" y1="211.4" x2="42.3" y2="211.4" stroke="#2e2e2e" stroke-width="1"/>
<line x1="184.1" y1="211.4" x2="182.5" y2="211.4" stroke="#2e2e2e" stroke-width="1"/>
<text x="40.7" y="370.7" font-size="12.3" fill="#222" text-anchor="middle">0</text>
<text x="69.38" y="370.7" font-size="12.3" fill="#222" text-anchor="middle">0.2</text>
<text x="98.06" y="370.7" font-size="12.3" fill="#222" text-anchor="middle">0.4</text>
<text x="126.74" y="370.7" font-size="12.3" fill="#222" text-anchor="middle">0.6</text>
<text x="155.42" y="370.7" font-size="12.3" fill="#222" text-anchor="middle">0.8</text>
<text x="184.1" y="370.7" font-size="12.3" fill="#222" text-anchor="middle">1</text>
<text x="36.1" y="357.8" font-size="12.3" fill="#222" text-anchor="end">0</text>
<text x="36.1" y="310.5" font-size="12.3" fill="#222" text-anchor="end">50</text>
<text x="36.1" y="263.1" font-size="12.3" fill="#222" text-anchor="end">100</text>
<text x="36.1" y="215.9" font-size="12.3" fill="#222" text-anchor="end">150</text>
<text x="111.8" y="384.6" font-size="13.7" fill="#222" text-anchor="middle">fCover</text>
<text transform="translate(13.2,309.1) rotate(-90)" font-size="12.47" fill="#222" textLength="56.8" lengthAdjust="spacingAndGlyphs">rRMSE(%)</text>
<rect x="40.7" y="211.4" width="143.4" height="142" fill="none" stroke="#2e2e2e" stroke-width="1.15"/>
<polyline points="47.5,298.5 50.11,300.75 52.72,302.93 55.33,305.01 57.94,307 60.55,308.89 63.16,310.68 65.77,312.41 68.38,314.06 70.99,315.65 73.6,317.19 76.21,318.69 78.82,320.15 81.43,321.57 84.04,322.94 86.65,324.25 89.26,325.47 91.87,326.61 94.48,327.7 97.09,328.75 99.7,329.75 102.31,330.72 104.92,331.66 107.53,332.57 110.14,333.47 112.75,334.35 115.36,335.23 117.97,336.09 120.58,336.91 123.19,337.69 125.8,338.4 128.41,339.04 131.02,339.62 133.63,340.17 136.24,340.7 138.85,341.23 141.46,341.8 144.07,342.35 146.68,342.77 149.29,343.05 151.9,343.27 154.51,343.46 157.12,343.63 159.73,343.79 162.34,343.94 164.95,344.08 167.56,344.2 170.17,344.31 172.78,344.4 175.39,344.48 178,344.55" fill="none" stroke="#2d7f86" stroke-width="1.1"/>
<polyline points="52.6,287.97 54.94,288.94 57.29,289.91 59.63,290.9 61.98,291.89 64.32,292.89 66.66,293.9 69.01,294.92 71.35,295.94 73.7,296.98 76.04,298.02 78.38,299.07 80.73,300.13 83.07,301.2 85.42,302.28 87.76,303.36 90.1,304.46 92.45,305.56 94.79,306.67 97.14,307.79 99.48,308.91 101.82,310.05 104.17,311.19 106.51,312.35 108.86,313.51 111.2,314.68 113.54,315.86 115.89,317.04 118.23,318.24 120.58,319.44 122.92,320.65 125.26,321.87 127.61,323.1 129.95,324.34 132.3,325.58 134.64,326.83 136.98,328.1 139.33,329.37 141.67,330.64 144.02,331.93 146.36,333.23 148.7,334.53 151.05,335.84 153.39,337.16 155.74,338.49 158.08,339.83 160.42,341.18 162.77,342.53 165.11,343.9 167.46,345.27 169.8,346.65" fill="none" stroke="#c9703a" stroke-width="1.1"/>
<path d="M42.9,293.5H53.9L48.4,302.7Z" fill="#17a9ad" stroke="#0f7f80" stroke-width="0.8"/>
<path d="M51.7,308.5H62.7L57.2,317.7Z" fill="#17a9ad" stroke="#0f7f80" stroke-width="0.8"/>
<path d="M57.5,303.5H68.5L63,312.7Z" fill="#17a9ad" stroke="#0f7f80" stroke-width="0.8"/>
<path d="M62.1,305.5H73.1L67.6,314.7Z" fill="#17a9ad" stroke="#0f7f80" stroke-width="0.8"/>
<path d="M67.4,317.3H78.4L72.9,326.5Z" fill="#17a9ad" stroke="#0f7f80" stroke-width="0.8"/>
<path d="M62.9,322.5H73.9L68.4,331.7Z" fill="#17a9ad" stroke="#0f7f80" stroke-width="0.8"/>
<path d="M74,324.8H85L79.5,334Z" fill="#17a9ad" stroke="#0f7f80" stroke-width="0.8"/>
<path d="M85.5,327H96.5L91,336.2Z" fill="#17a9ad" stroke="#0f7f80" stroke-width="0.8"/>
<path d="M94.1,321.8H105.1L99.6,331Z" fill="#17a9ad" stroke="#0f7f80" stroke-width="0.8"/>
<path d="M71.2,316.7H82.2L76.7,325.9Z" fill="#17a9ad" stroke="#0f7f80" stroke-width="0.8"/>
<path d="M104.5,313H115.5L110,322.2Z" fill="#17a9ad" stroke="#0f7f80" stroke-width="0.8"/>
<path d="M102.9,333H113.9L108.4,342.2Z" fill="#17a9ad" stroke="#0f7f80" stroke-width="0.8"/>
<path d="M111.6,329H122.6L117.1,338.2Z" fill="#17a9ad" stroke="#0f7f80" stroke-width="0.8"/>
<path d="M116,339.8H127L121.5,349Z" fill="#17a9ad" stroke="#0f7f80" stroke-width="0.8"/>
<path d="M126.3,323.7H137.3L131.8,332.9Z" fill="#17a9ad" stroke="#0f7f80" stroke-width="0.8"/>
<path d="M128.8,338.1H139.8L134.3,347.3Z" fill="#17a9ad" stroke="#0f7f80" stroke-width="0.8"/>
<path d="M140,342.3H151L145.5,351.5Z" fill="#17a9ad" stroke="#0f7f80" stroke-width="0.8"/>
<path d="M145.8,334.3H156.8L151.3,343.5Z" fill="#17a9ad" stroke="#0f7f80" stroke-width="0.8"/>
<path d="M153.7,342.1H164.7L159.2,351.3Z" fill="#17a9ad" stroke="#0f7f80" stroke-width="0.8"/>
<path d="M164.3,342.5H175.3L169.8,351.7Z" fill="#17a9ad" stroke="#0f7f80" stroke-width="0.8"/>
<path d="M168.5,342.5H179.5L174,351.7Z" fill="#17a9ad" stroke="#0f7f80" stroke-width="0.8"/>
<path d="M172.5,342.5H183.5L178,351.7Z" fill="#17a9ad" stroke="#0f7f80" stroke-width="0.8"/>
<path d="M177.3,346.5H188.3L182.8,355.7Z" fill="#17a9ad" stroke="#0f7f80" stroke-width="0.8"/>
<rect x="57.7" y="256.6" width="7.2" height="6.8" fill="#fbb40c" stroke="#e7741c" stroke-width="0.9"/>
<rect x="72.7" y="275.9" width="7.2" height="6.8" fill="#fbb40c" stroke="#e7741c" stroke-width="0.9"/>
<rect x="75.2" y="273.6" width="7.2" height="6.8" fill="#fbb40c" stroke="#e7741c" stroke-width="0.9"/>
<rect x="48.3" y="283.2" width="7.2" height="6.8" fill="#fbb40c" stroke="#e7741c" stroke-width="0.9"/>
<rect x="53.4" y="281.4" width="7.2" height="6.8" fill="#fbb40c" stroke="#e7741c" stroke-width="0.9"/>
<rect x="64.5" y="288.8" width="7.2" height="6.8" fill="#fbb40c" stroke="#e7741c" stroke-width="0.9"/>
<rect x="106.3" y="272.9" width="7.2" height="6.8" fill="#fbb40c" stroke="#e7741c" stroke-width="0.9"/>
<rect x="96.1" y="287.5" width="7.2" height="6.8" fill="#fbb40c" stroke="#e7741c" stroke-width="0.9"/>
<rect x="87.6" y="297" width="7.2" height="6.8" fill="#fbb40c" stroke="#e7741c" stroke-width="0.9"/>
<rect x="44.2" y="298.8" width="7.2" height="6.8" fill="#fbb40c" stroke="#e7741c" stroke-width="0.9"/>
<rect x="51.2" y="298.2" width="7.2" height="6.8" fill="#fbb40c" stroke="#e7741c" stroke-width="0.9"/>
<rect x="62.6" y="308.6" width="7.2" height="6.8" fill="#fbb40c" stroke="#e7741c" stroke-width="0.9"/>
<rect x="69.2" y="308.5" width="7.2" height="6.8" fill="#fbb40c" stroke="#e7741c" stroke-width="0.9"/>
<rect x="75.9" y="306.3" width="7.2" height="6.8" fill="#fbb40c" stroke="#e7741c" stroke-width="0.9"/>
<rect x="103.6" y="316.6" width="7.2" height="6.8" fill="#fbb40c" stroke="#e7741c" stroke-width="0.9"/>
<rect x="86.9" y="320.6" width="7.2" height="6.8" fill="#fbb40c" stroke="#e7741c" stroke-width="0.9"/>
<rect x="113.6" y="312.6" width="7.2" height="6.8" fill="#fbb40c" stroke="#e7741c" stroke-width="0.9"/>
<rect x="128.3" y="306.6" width="7.2" height="6.8" fill="#fbb40c" stroke="#e7741c" stroke-width="0.9"/>
<rect x="97.7" y="330.8" width="7.2" height="6.8" fill="#fbb40c" stroke="#e7741c" stroke-width="0.9"/>
<rect x="118.1" y="333.9" width="7.2" height="6.8" fill="#fbb40c" stroke="#e7741c" stroke-width="0.9"/>
<rect x="130.4" y="332.1" width="7.2" height="6.8" fill="#fbb40c" stroke="#e7741c" stroke-width="0.9"/>
<rect x="141.9" y="342.3" width="7.2" height="6.8" fill="#fbb40c" stroke="#e7741c" stroke-width="0.9"/>
<rect x="147.7" y="331.5" width="7.2" height="6.8" fill="#fbb40c" stroke="#e7741c" stroke-width="0.9"/>
<rect x="155.6" y="342.2" width="7.2" height="6.8" fill="#fbb40c" stroke="#e7741c" stroke-width="0.9"/>
<rect x="165.1" y="343" width="7.2" height="6.8" fill="#fbb40c" stroke="#e7741c" stroke-width="0.9"/>
<rect x="168.9" y="343.5" width="7.2" height="6.8" fill="#fbb40c" stroke="#e7741c" stroke-width="0.9"/>
<rect x="174.4" y="343.5" width="7.2" height="6.8" fill="#fbb40c" stroke="#e7741c" stroke-width="0.9"/>
<rect x="179.3" y="346.8" width="7.2" height="6.8" fill="#fbb40c" stroke="#e7741c" stroke-width="0.9"/>
<text x="98.6" y="228.6" font-size="12.3" fill="#222" stroke="#222" stroke-width="0.12" textLength="22.1" lengthAdjust="spacingAndGlyphs">SZA</text>
<text x="125.3" y="228.6" font-size="12" fill="#222" stroke="#222" stroke-width="0.12" textLength="8.8" lengthAdjust="spacingAndGlyphs">=</text>
<text x="139.8" y="228.6" font-size="12" fill="#222" stroke="#222" stroke-width="0.12" textLength="15.5" lengthAdjust="spacingAndGlyphs">50°</text>
<text x="161.9" y="228.6" font-size="12" fill="#222" stroke="#222" stroke-width="0.08" textLength="14.8" lengthAdjust="spacing">(d)</text>
<text x="44.2" y="347.8" font-size="13.2" font-style="italic" fill="#2e8585">R</text>
<text x="52.1" y="342.6" font-size="9" fill="#2e8585">2</text>
<text x="61.4" y="347.8" font-size="13" fill="#2e8585" textLength="9.2" lengthAdjust="spacingAndGlyphs">=</text>
<text x="70.2" y="348.1" font-size="13.6" fill="#2e8585" textLength="29.5" lengthAdjust="spacingAndGlyphs">0.855</text>
<text x="114.8" y="299" font-size="13.2" font-style="italic" fill="#c27a4a">R</text>
<text x="122.7" y="293.8" font-size="9" fill="#c27a4a">2</text>
<text x="132" y="299" font-size="13" fill="#c27a4a" textLength="9.2" lengthAdjust="spacingAndGlyphs">=</text>
<text x="140.8" y="299.3" font-size="13.6" fill="#c27a4a" textLength="29.5" lengthAdjust="spacingAndGlyphs">0.641</text>
<line x1="248.18" y1="211.4" x2="248.18" y2="353.4" stroke="#e2e2e2" stroke-width="0.9"/>
<line x1="276.86" y1="211.4" x2="276.86" y2="353.4" stroke="#e2e2e2" stroke-width="0.9"/>
<line x1="305.54" y1="211.4" x2="305.54" y2="353.4" stroke="#e2e2e2" stroke-width="0.9"/>
<line x1="334.22" y1="211.4" x2="334.22" y2="353.4" stroke="#e2e2e2" stroke-width="0.9"/>
<line x1="219.5" y1="304.8" x2="362.9" y2="304.8" stroke="#e2e2e2" stroke-width="0.9"/>
<line x1="219.5" y1="258.1" x2="362.9" y2="258.1" stroke="#e2e2e2" stroke-width="0.9"/>
<line x1="219.5" y1="353.4" x2="219.5" y2="351.8" stroke="#2e2e2e" stroke-width="1"/>
<line x1="219.5" y1="211.4" x2="219.5" y2="213" stroke="#2e2e2e" stroke-width="1"/>
<line x1="248.18" y1="353.4" x2="248.18" y2="351.8" stroke="#2e2e2e" stroke-width="1"/>
<line x1="248.18" y1="211.4" x2="248.18" y2="213" stroke="#2e2e2e" stroke-width="1"/>
<line x1="276.86" y1="353.4" x2="276.86" y2="351.8" stroke="#2e2e2e" stroke-width="1"/>
<line x1="276.86" y1="211.4" x2="276.86" y2="213" stroke="#2e2e2e" stroke-width="1"/>
<line x1="305.54" y1="353.4" x2="305.54" y2="351.8" stroke="#2e2e2e" stroke-width="1"/>
<line x1="305.54" y1="211.4" x2="305.54" y2="213" stroke="#2e2e2e" stroke-width="1"/>
<line x1="334.22" y1="353.4" x2="334.22" y2="351.8" stroke="#2e2e2e" stroke-width="1"/>
<line x1="334.22" y1="211.4" x2="334.22" y2="213" stroke="#2e2e2e" stroke-width="1"/>
<line x1="362.9" y1="353.4" x2="362.9" y2="351.8" stroke="#2e2e2e" stroke-width="1"/>
<line x1="362.9" y1="211.4" x2="362.9" y2="213" stroke="#2e2e2e" stroke-width="1"/>
<line x1="219.5" y1="351.7" x2="221.1" y2="351.7" stroke="#2e2e2e" stroke-width="1"/>
<line x1="362.9" y1="351.7" x2="361.3" y2="351.7" stroke="#2e2e2e" stroke-width="1"/>
<line x1="219.5" y1="304.8" x2="221.1" y2="304.8" stroke="#2e2e2e" stroke-width="1"/>
<line x1="362.9" y1="304.8" x2="361.3" y2="304.8" stroke="#2e2e2e" stroke-width="1"/>
<line x1="219.5" y1="258.1" x2="221.1" y2="258.1" stroke="#2e2e2e" stroke-width="1"/>
<line x1="362.9" y1="258.1" x2="361.3" y2="258.1" stroke="#2e2e2e" stroke-width="1"/>
<line x1="219.5" y1="211.4" x2="221.1" y2="211.4" stroke="#2e2e2e" stroke-width="1"/>
<line x1="362.9" y1="211.4" x2="361.3" y2="211.4" stroke="#2e2e2e" stroke-width="1"/>
<text x="219.5" y="370.7" font-size="12.3" fill="#222" text-anchor="middle">0</text>
<text x="248.18" y="370.7" font-size="12.3" fill="#222" text-anchor="middle">0.2</text>
<text x="276.86" y="370.7" font-size="12.3" fill="#222" text-anchor="middle">0.4</text>
<text x="305.54" y="370.7" font-size="12.3" fill="#222" text-anchor="middle">0.6</text>
<text x="334.22" y="370.7" font-size="12.3" fill="#222" text-anchor="middle">0.8</text>
<text x="362.9" y="370.7" font-size="12.3" fill="#222" text-anchor="middle">1</text>
<text x="214.9" y="356.2" font-size="12.3" fill="#222" text-anchor="end">0</text>
<text x="214.9" y="309.3" font-size="12.3" fill="#222" text-anchor="end">50</text>
<text x="214.9" y="262.6" font-size="12.3" fill="#222" text-anchor="end">100</text>
<text x="214.9" y="215.9" font-size="12.3" fill="#222" text-anchor="end">150</text>
<text x="290.6" y="384.6" font-size="13.7" fill="#222" text-anchor="middle">fCover</text>
<rect x="219.5" y="211.4" width="143.4" height="142" fill="none" stroke="#2e2e2e" stroke-width="1.15"/>
<polyline points="226.7,295.5 229.28,297.85 231.86,300.14 234.44,302.31 237.02,304.32 239.6,306.13 242.18,307.79 244.76,309.35 247.34,310.84 249.92,312.26 252.5,313.61 255.08,314.92 257.66,316.19 260.24,317.43 262.82,318.65 265.4,319.85 267.98,321.06 270.56,322.27 273.14,323.49 275.72,324.64 278.3,325.69 280.88,326.59 283.46,327.34 286.04,328 288.62,328.6 291.2,329.17 293.78,329.74 296.36,330.34 298.94,331 301.52,331.75 304.1,332.66 306.68,333.69 309.26,334.75 311.84,335.78 314.42,336.71 317,337.46 319.58,338.03 322.16,338.56 324.74,339.05 327.32,339.51 329.9,339.93 332.48,340.31 335.06,340.67 337.64,340.98 340.22,341.26 342.8,341.51 345.38,341.74 347.96,341.95 350.54,342.15 353.12,342.34 355.7,342.5" fill="none" stroke="#2d7f86" stroke-width="1.1"/>
<polyline points="228.1,280.58 230.51,281.46 232.92,282.36 235.33,283.28 237.74,284.21 240.15,285.16 242.56,286.13 244.97,287.12 247.38,288.12 249.79,289.15 252.2,290.19 254.61,291.24 257.02,292.32 259.43,293.41 261.84,294.52 264.25,295.65 266.66,296.79 269.07,297.96 271.48,299.14 273.89,300.33 276.3,301.55 278.71,302.78 281.12,304.03 283.53,305.3 285.94,306.59 288.35,307.89 290.76,309.21 293.17,310.55 295.58,311.9 297.99,313.28 300.4,314.67 302.81,316.08 305.22,317.5 307.63,318.95 310.04,320.41 312.45,321.89 314.86,323.38 317.27,324.9 319.68,326.43 322.09,327.98 324.5,329.54 326.91,331.13 329.32,332.73 331.73,334.35 334.14,335.99 336.55,337.64 338.96,339.31 341.37,341 343.78,342.71 346.19,344.43 348.6,346.18" fill="none" stroke="#c9703a" stroke-width="1.1"/>
<path d="M221.1,289.5H232.1L226.6,298.7Z" fill="#17a9ad" stroke="#0f7f80" stroke-width="0.8"/>
<path d="M228,299.5H239L233.5,308.7Z" fill="#17a9ad" stroke="#0f7f80" stroke-width="0.8"/>
<path d="M230.2,306.7H241.2L235.7,315.9Z" fill="#17a9ad" stroke="#0f7f80" stroke-width="0.8"/>
<path d="M238.5,297.5H249.5L244,306.7Z" fill="#17a9ad" stroke="#0f7f80" stroke-width="0.8"/>
<path d="M246.6,312.8H257.6L252.1,322Z" fill="#17a9ad" stroke="#0f7f80" stroke-width="0.8"/>
<path d="M241.7,318.8H252.7L247.2,328Z" fill="#17a9ad" stroke="#0f7f80" stroke-width="0.8"/>
<path d="M251.5,318.5H262.5L257,327.7Z" fill="#17a9ad" stroke="#0f7f80" stroke-width="0.8"/>
<path d="M264,323.7H275L269.5,332.9Z" fill="#17a9ad" stroke="#0f7f80" stroke-width="0.8"/>
<path d="M273.4,319.5H284.4L278.9,328.7Z" fill="#17a9ad" stroke="#0f7f80" stroke-width="0.8"/>
<path d="M280.5,329.9H291.5L286,339.1Z" fill="#17a9ad" stroke="#0f7f80" stroke-width="0.8"/>
<path d="M282.7,310.5H293.7L288.2,319.7Z" fill="#17a9ad" stroke="#0f7f80" stroke-width="0.8"/>
<path d="M290.3,325.5H301.3L295.8,334.7Z" fill="#17a9ad" stroke="#0f7f80" stroke-width="0.8"/>
<path d="M295.2,335.8H306.2L300.7,345Z" fill="#17a9ad" stroke="#0f7f80" stroke-width="0.8"/>
<path d="M305,321H316L310.5,330.2Z" fill="#17a9ad" stroke="#0f7f80" stroke-width="0.8"/>
<path d="M307.2,335.5H318.2L312.7,344.7Z" fill="#17a9ad" stroke="#0f7f80" stroke-width="0.8"/>
<path d="M318.7,341H329.7L324.2,350.2Z" fill="#17a9ad" stroke="#0f7f80" stroke-width="0.8"/>
<path d="M324.1,332.5H335.1L329.6,341.7Z" fill="#17a9ad" stroke="#0f7f80" stroke-width="0.8"/>
<path d="M332.3,340.3H343.3L337.8,349.5Z" fill="#17a9ad" stroke="#0f7f80" stroke-width="0.8"/>
<path d="M342.7,340.5H353.7L348.2,349.7Z" fill="#17a9ad" stroke="#0f7f80" stroke-width="0.8"/>
<path d="M348.1,338.5H359.1L353.6,347.7Z" fill="#17a9ad" stroke="#0f7f80" stroke-width="0.8"/>
<path d="M355.8,345H366.8L361.3,354.2Z" fill="#17a9ad" stroke="#0f7f80" stroke-width="0.8"/>
<rect x="236.5" y="244.6" width="7.2" height="6.8" fill="#fbb40c" stroke="#e7741c" stroke-width="0.9"/>
<rect x="232.1" y="270.5" width="7.2" height="6.8" fill="#fbb40c" stroke="#e7741c" stroke-width="0.9"/>
<rect x="251.5" y="267.7" width="7.2" height="6.8" fill="#fbb40c" stroke="#e7741c" stroke-width="0.9"/>
<rect x="254.2" y="267.7" width="7.2" height="6.8" fill="#fbb40c" stroke="#e7741c" stroke-width="0.9"/>
<rect x="285.7" y="266.4" width="7.2" height="6.8" fill="#fbb40c" stroke="#e7741c" stroke-width="0.9"/>
<rect x="228" y="281.5" width="7.2" height="6.8" fill="#fbb40c" stroke="#e7741c" stroke-width="0.9"/>
<rect x="243.5" y="283.3" width="7.2" height="6.8" fill="#fbb40c" stroke="#e7741c" stroke-width="0.9"/>
<rect x="274.8" y="280.7" width="7.2" height="6.8" fill="#fbb40c" stroke="#e7741c" stroke-width="0.9"/>
<rect x="266.9" y="289.9" width="7.2" height="6.8" fill="#fbb40c" stroke="#e7741c" stroke-width="0.9"/>
<rect x="223" y="295.8" width="7.2" height="6.8" fill="#fbb40c" stroke="#e7741c" stroke-width="0.9"/>
<rect x="230.2" y="293.2" width="7.2" height="6.8" fill="#fbb40c" stroke="#e7741c" stroke-width="0.9"/>
<rect x="241.3" y="301.8" width="7.2" height="6.8" fill="#fbb40c" stroke="#e7741c" stroke-width="0.9"/>
<rect x="247.9" y="299.1" width="7.2" height="6.8" fill="#fbb40c" stroke="#e7741c" stroke-width="0.9"/>
<rect x="254.5" y="297.2" width="7.2" height="6.8" fill="#fbb40c" stroke="#e7741c" stroke-width="0.9"/>
<rect x="265.7" y="314.6" width="7.2" height="6.8" fill="#fbb40c" stroke="#e7741c" stroke-width="0.9"/>
<rect x="282.4" y="312.9" width="7.2" height="6.8" fill="#fbb40c" stroke="#e7741c" stroke-width="0.9"/>
<rect x="292.4" y="308.1" width="7.2" height="6.8" fill="#fbb40c" stroke="#e7741c" stroke-width="0.9"/>
<rect x="306.5" y="304.7" width="7.2" height="6.8" fill="#fbb40c" stroke="#e7741c" stroke-width="0.9"/>
<rect x="276.4" y="325.5" width="7.2" height="6.8" fill="#fbb40c" stroke="#e7741c" stroke-width="0.9"/>
<rect x="296.9" y="329.9" width="7.2" height="6.8" fill="#fbb40c" stroke="#e7741c" stroke-width="0.9"/>
<rect x="309.1" y="329.3" width="7.2" height="6.8" fill="#fbb40c" stroke="#e7741c" stroke-width="0.9"/>
<rect x="320.6" y="339.7" width="7.2" height="6.8" fill="#fbb40c" stroke="#e7741c" stroke-width="0.9"/>
<rect x="326" y="329.3" width="7.2" height="6.8" fill="#fbb40c" stroke="#e7741c" stroke-width="0.9"/>
<rect x="334.2" y="340.2" width="7.2" height="6.8" fill="#fbb40c" stroke="#e7741c" stroke-width="0.9"/>
<rect x="344" y="340.8" width="7.2" height="6.8" fill="#fbb40c" stroke="#e7741c" stroke-width="0.9"/>
<rect x="348.4" y="341.9" width="7.2" height="6.8" fill="#fbb40c" stroke="#e7741c" stroke-width="0.9"/>
<rect x="352.2" y="342.4" width="7.2" height="6.8" fill="#fbb40c" stroke="#e7741c" stroke-width="0.9"/>
<rect x="357.7" y="344.6" width="7.2" height="6.8" fill="#fbb40c" stroke="#e7741c" stroke-width="0.9"/>
<text x="278.9" y="228.6" font-size="12.3" fill="#222" stroke="#222" stroke-width="0.12" textLength="22.1" lengthAdjust="spacingAndGlyphs">SZA</text>
<text x="305" y="228.6" font-size="12" fill="#222" stroke="#222" stroke-width="0.12" textLength="8.8" lengthAdjust="spacingAndGlyphs">=</text>
<text x="320.3" y="228.6" font-size="12" fill="#222" stroke="#222" stroke-width="0.12" textLength="15.5" lengthAdjust="spacingAndGlyphs">55°</text>
<text x="341.6" y="228.6" font-size="12" fill="#222" stroke="#222" stroke-width="0.08" textLength="13.9" lengthAdjust="spacing">(e)</text>
<text x="223.7" y="347.3" font-size="13.2" font-style="italic" fill="#2e8585">R</text>
<text x="231.6" y="342.1" font-size="9" fill="#2e8585">2</text>
<text x="240.9" y="347.3" font-size="13" fill="#2e8585" textLength="9.2" lengthAdjust="spacingAndGlyphs">=</text>
<text x="249.7" y="347.6" font-size="13.6" fill="#2e8585" textLength="29.5" lengthAdjust="spacingAndGlyphs">0.863</text>
<text x="289.6" y="294.4" font-size="13.2" font-style="italic" fill="#c27a4a">R</text>
<text x="297.5" y="289.2" font-size="9" fill="#c27a4a">2</text>
<text x="306.8" y="294.4" font-size="13" fill="#c27a4a" textLength="9.2" lengthAdjust="spacingAndGlyphs">=</text>
<text x="315.6" y="294.7" font-size="13.6" fill="#c27a4a" textLength="29.5" lengthAdjust="spacingAndGlyphs">0.663</text>
<line x1="426.98" y1="211.4" x2="426.98" y2="353.4" stroke="#e2e2e2" stroke-width="0.9"/>
<line x1="455.66" y1="211.4" x2="455.66" y2="353.4" stroke="#e2e2e2" stroke-width="0.9"/>
<line x1="484.34" y1="211.4" x2="484.34" y2="353.4" stroke="#e2e2e2" stroke-width="0.9"/>
<line x1="513.02" y1="211.4" x2="513.02" y2="353.4" stroke="#e2e2e2" stroke-width="0.9"/>
<line x1="398.3" y1="304.4" x2="541.7" y2="304.4" stroke="#e2e2e2" stroke-width="0.9"/>
<line x1="398.3" y1="257.8" x2="541.7" y2="257.8" stroke="#e2e2e2" stroke-width="0.9"/>
<line x1="398.3" y1="353.4" x2="398.3" y2="351.8" stroke="#2e2e2e" stroke-width="1"/>
<line x1="398.3" y1="211.4" x2="398.3" y2="213" stroke="#2e2e2e" stroke-width="1"/>
<line x1="426.98" y1="353.4" x2="426.98" y2="351.8" stroke="#2e2e2e" stroke-width="1"/>
<line x1="426.98" y1="211.4" x2="426.98" y2="213" stroke="#2e2e2e" stroke-width="1"/>
<line x1="455.66" y1="353.4" x2="455.66" y2="351.8" stroke="#2e2e2e" stroke-width="1"/>
<line x1="455.66" y1="211.4" x2="455.66" y2="213" stroke="#2e2e2e" stroke-width="1"/>
<line x1="484.34" y1="353.4" x2="484.34" y2="351.8" stroke="#2e2e2e" stroke-width="1"/>
<line x1="484.34" y1="211.4" x2="484.34" y2="213" stroke="#2e2e2e" stroke-width="1"/>
<line x1="513.02" y1="353.4" x2="513.02" y2="351.8" stroke="#2e2e2e" stroke-width="1"/>
<line x1="513.02" y1="211.4" x2="513.02" y2="213" stroke="#2e2e2e" stroke-width="1"/>
<line x1="541.7" y1="353.4" x2="541.7" y2="351.8" stroke="#2e2e2e" stroke-width="1"/>
<line x1="541.7" y1="211.4" x2="541.7" y2="213" stroke="#2e2e2e" stroke-width="1"/>
<line x1="398.3" y1="350.8" x2="399.9" y2="350.8" stroke="#2e2e2e" stroke-width="1"/>
<line x1="541.7" y1="350.8" x2="540.1" y2="350.8" stroke="#2e2e2e" stroke-width="1"/>
<line x1="398.3" y1="304.4" x2="399.9" y2="304.4" stroke="#2e2e2e" stroke-width="1"/>
<line x1="541.7" y1="304.4" x2="540.1" y2="304.4" stroke="#2e2e2e" stroke-width="1"/>
<line x1="398.3" y1="257.8" x2="399.9" y2="257.8" stroke="#2e2e2e" stroke-width="1"/>
<line x1="541.7" y1="257.8" x2="540.1" y2="257.8" stroke="#2e2e2e" stroke-width="1"/>
<line x1="398.3" y1="211.4" x2="399.9" y2="211.4" stroke="#2e2e2e" stroke-width="1"/>
<line x1="541.7" y1="211.4" x2="540.1" y2="211.4" stroke="#2e2e2e" stroke-width="1"/>
<text x="398.3" y="370.7" font-size="12.3" fill="#222" text-anchor="middle">0</text>
<text x="426.98" y="370.7" font-size="12.3" fill="#222" text-anchor="middle">0.2</text>
<text x="455.66" y="370.7" font-size="12.3" fill="#222" text-anchor="middle">0.4</text>
<text x="484.34" y="370.7" font-size="12.3" fill="#222" text-anchor="middle">0.6</text>
<text x="513.02" y="370.7" font-size="12.3" fill="#222" text-anchor="middle">0.8</text>
<text x="541.7" y="370.7" font-size="12.3" fill="#222" text-anchor="middle">1</text>
<text x="393.7" y="355.3" font-size="12.3" fill="#222" text-anchor="end">0</text>
<text x="393.7" y="308.9" font-size="12.3" fill="#222" text-anchor="end">50</text>
<text x="393.7" y="262.3" font-size="12.3" fill="#222" text-anchor="end">100</text>
<text x="393.7" y="215.9" font-size="12.3" fill="#222" text-anchor="end">150</text>
<text x="469.4" y="384.6" font-size="13.7" fill="#222" text-anchor="middle">fCover</text>
<rect x="398.3" y="211.4" width="143.4" height="142" fill="none" stroke="#2e2e2e" stroke-width="1.15"/>
<polyline points="404,292.7 406.61,294.64 409.22,296.52 411.83,298.34 414.44,300.09 417.05,301.78 419.66,303.39 422.27,304.93 424.88,306.37 427.49,307.72 430.1,309 432.71,310.24 435.32,311.48 437.93,312.73 440.54,314.01 443.15,315.36 445.76,316.75 448.37,318.15 450.98,319.55 453.59,320.92 456.2,322.25 458.81,323.61 461.42,325 464.03,326.4 466.64,327.77 469.25,329.07 471.86,330.27 474.47,331.33 477.08,332.22 479.69,332.93 482.3,333.56 484.91,334.11 487.52,334.62 490.13,335.1 492.74,335.56 495.35,336.04 497.96,336.54 500.57,337.06 503.18,337.59 505.79,338.11 508.4,338.63 511.01,339.13 513.62,339.6 516.23,340.03 518.84,340.42 521.45,340.75 524.06,341.03 526.67,341.28 529.28,341.52 531.89,341.74 534.5,341.93" fill="none" stroke="#2d7f86" stroke-width="1.1"/>
<polyline points="405.8,268.47 408.23,269.8 410.66,271.13 413.1,272.47 415.53,273.82 417.96,275.17 420.39,276.54 422.82,277.91 425.26,279.29 427.69,280.68 430.12,282.08 432.55,283.48 434.98,284.9 437.42,286.32 439.85,287.75 442.28,289.18 444.71,290.63 447.14,292.08 449.58,293.54 452.01,295.01 454.44,296.49 456.87,297.98 459.3,299.47 461.74,300.97 464.17,302.48 466.6,304 469.03,305.52 471.46,307.06 473.9,308.6 476.33,310.15 478.76,311.7 481.19,313.27 483.62,314.84 486.06,316.43 488.49,318.02 490.92,319.61 493.35,321.22 495.78,322.83 498.22,324.45 500.65,326.08 503.08,327.72 505.51,329.37 507.94,331.02 510.38,332.68 512.81,334.35 515.24,336.03 517.67,337.72 520.1,339.41 522.54,341.11 524.97,342.82 527.4,344.54" fill="none" stroke="#c9703a" stroke-width="1.1"/>
<path d="M398.9,287H409.9L404.4,296.2Z" fill="#17a9ad" stroke="#0f7f80" stroke-width="0.8"/>
<path d="M406.5,291.5H417.5L412,300.7Z" fill="#17a9ad" stroke="#0f7f80" stroke-width="0.8"/>
<path d="M418,289.1H429L423.5,298.3Z" fill="#17a9ad" stroke="#0f7f80" stroke-width="0.8"/>
<path d="M412.5,300H423.5L418,309.2Z" fill="#17a9ad" stroke="#0f7f80" stroke-width="0.8"/>
<path d="M408.7,305.5H419.7L414.2,314.7Z" fill="#17a9ad" stroke="#0f7f80" stroke-width="0.8"/>
<path d="M425.6,303H436.6L431.1,312.2Z" fill="#17a9ad" stroke="#0f7f80" stroke-width="0.8"/>
<path d="M420.1,312H431.1L425.6,321.2Z" fill="#17a9ad" stroke="#0f7f80" stroke-width="0.8"/>
<path d="M430.5,314H441.5L436,323.2Z" fill="#17a9ad" stroke="#0f7f80" stroke-width="0.8"/>
<path d="M442.6,317.5H453.6L448.1,326.7Z" fill="#17a9ad" stroke="#0f7f80" stroke-width="0.8"/>
<path d="M452,316H463L457.5,325.2Z" fill="#17a9ad" stroke="#0f7f80" stroke-width="0.8"/>
<path d="M463.8,312H474.8L469.3,321.2Z" fill="#17a9ad" stroke="#0f7f80" stroke-width="0.8"/>
<path d="M459.1,326.5H470.1L464.6,335.7Z" fill="#17a9ad" stroke="#0f7f80" stroke-width="0.8"/>
<path d="M469.7,322H480.7L475.2,331.2Z" fill="#17a9ad" stroke="#0f7f80" stroke-width="0.8"/>
<path d="M473.3,332.5H484.3L478.8,341.7Z" fill="#17a9ad" stroke="#0f7f80" stroke-width="0.8"/>
<path d="M483.9,322.5H494.9L489.4,331.7Z" fill="#17a9ad" stroke="#0f7f80" stroke-width="0.8"/>
<path d="M485.9,332.5H496.9L491.4,341.7Z" fill="#17a9ad" stroke="#0f7f80" stroke-width="0.8"/>
<path d="M496.3,336.5H507.3L501.8,345.7Z" fill="#17a9ad" stroke="#0f7f80" stroke-width="0.8"/>
<path d="M502.8,332.5H513.8L508.3,341.7Z" fill="#17a9ad" stroke="#0f7f80" stroke-width="0.8"/>
<path d="M511.2,341H522.2L516.7,350.2Z" fill="#17a9ad" stroke="#0f7f80" stroke-width="0.8"/>
<path d="M524.9,341.5H535.9L530.4,350.7Z" fill="#17a9ad" stroke="#0f7f80" stroke-width="0.8"/>
<path d="M521,341.5H532L526.5,350.7Z" fill="#17a9ad" stroke="#0f7f80" stroke-width="0.8"/>
<path d="M534.5,344.9H545.5L540,354.1Z" fill="#17a9ad" stroke="#0f7f80" stroke-width="0.8"/>
<rect x="415.3" y="231" width="7.2" height="6.8" fill="#fbb40c" stroke="#e7741c" stroke-width="0.9"/>
<rect x="411.1" y="257.5" width="7.2" height="6.8" fill="#fbb40c" stroke="#e7741c" stroke-width="0.9"/>
<rect x="430.5" y="259.2" width="7.2" height="6.8" fill="#fbb40c" stroke="#e7741c" stroke-width="0.9"/>
<rect x="432.7" y="259.8" width="7.2" height="6.8" fill="#fbb40c" stroke="#e7741c" stroke-width="0.9"/>
<rect x="464.3" y="263.7" width="7.2" height="6.8" fill="#fbb40c" stroke="#e7741c" stroke-width="0.9"/>
<rect x="406.7" y="266.1" width="7.2" height="6.8" fill="#fbb40c" stroke="#e7741c" stroke-width="0.9"/>
<rect x="422.5" y="275.5" width="7.2" height="6.8" fill="#fbb40c" stroke="#e7741c" stroke-width="0.9"/>
<rect x="453.7" y="277.6" width="7.2" height="6.8" fill="#fbb40c" stroke="#e7741c" stroke-width="0.9"/>
<rect x="445.2" y="284.6" width="7.2" height="6.8" fill="#fbb40c" stroke="#e7741c" stroke-width="0.9"/>
<rect x="408.8" y="284.9" width="7.2" height="6.8" fill="#fbb40c" stroke="#e7741c" stroke-width="0.9"/>
<rect x="401.6" y="290.1" width="7.2" height="6.8" fill="#fbb40c" stroke="#e7741c" stroke-width="0.9"/>
<rect x="420" y="293.5" width="7.2" height="6.8" fill="#fbb40c" stroke="#e7741c" stroke-width="0.9"/>
<rect x="426.8" y="290.3" width="7.2" height="6.8" fill="#fbb40c" stroke="#e7741c" stroke-width="0.9"/>
<rect x="433.4" y="291.9" width="7.2" height="6.8" fill="#fbb40c" stroke="#e7741c" stroke-width="0.9"/>
<rect x="444.5" y="307.6" width="7.2" height="6.8" fill="#fbb40c" stroke="#e7741c" stroke-width="0.9"/>
<rect x="461" y="308.6" width="7.2" height="6.8" fill="#fbb40c" stroke="#e7741c" stroke-width="0.9"/>
<rect x="470.9" y="303.1" width="7.2" height="6.8" fill="#fbb40c" stroke="#e7741c" stroke-width="0.9"/>
<rect x="485.3" y="303.7" width="7.2" height="6.8" fill="#fbb40c" stroke="#e7741c" stroke-width="0.9"/>
<rect x="455.2" y="321.7" width="7.2" height="6.8" fill="#fbb40c" stroke="#e7741c" stroke-width="0.9"/>
<rect x="475.8" y="325.1" width="7.2" height="6.8" fill="#fbb40c" stroke="#e7741c" stroke-width="0.9"/>
<rect x="487.7" y="325.4" width="7.2" height="6.8" fill="#fbb40c" stroke="#e7741c" stroke-width="0.9"/>
<rect x="499" y="339.7" width="7.2" height="6.8" fill="#fbb40c" stroke="#e7741c" stroke-width="0.9"/>
<rect x="504.7" y="328.2" width="7.2" height="6.8" fill="#fbb40c" stroke="#e7741c" stroke-width="0.9"/>
<rect x="513.1" y="341.3" width="7.2" height="6.8" fill="#fbb40c" stroke="#e7741c" stroke-width="0.9"/>
<rect x="523.5" y="341.3" width="7.2" height="6.8" fill="#fbb40c" stroke="#e7741c" stroke-width="0.9"/>
<rect x="527.3" y="341.6" width="7.2" height="6.8" fill="#fbb40c" stroke="#e7741c" stroke-width="0.9"/>
<rect x="532.2" y="343" width="7.2" height="6.8" fill="#fbb40c" stroke="#e7741c" stroke-width="0.9"/>
<rect x="536.6" y="344.6" width="7.2" height="6.8" fill="#fbb40c" stroke="#e7741c" stroke-width="0.9"/>
<text x="456.7" y="228.6" font-size="12.3" fill="#222" stroke="#222" stroke-width="0.12" textLength="22.1" lengthAdjust="spacingAndGlyphs">SZA</text>
<text x="484" y="228.6" font-size="12" fill="#222" stroke="#222" stroke-width="0.12" textLength="8.8" lengthAdjust="spacingAndGlyphs">=</text>
<text x="498.5" y="228.6" font-size="12" fill="#222" stroke="#222" stroke-width="0.12" textLength="15.5" lengthAdjust="spacingAndGlyphs">60°</text>
<text x="519.7" y="228.6" font-size="12" fill="#222" stroke="#222" stroke-width="0.08" textLength="13.1" lengthAdjust="spacing">(f)</text>
<text x="401.3" y="344.7" font-size="13.2" font-style="italic" fill="#2e8585">R</text>
<text x="409.2" y="339.5" font-size="9" fill="#2e8585">2</text>
<text x="418.5" y="344.7" font-size="13" fill="#2e8585" textLength="9.2" lengthAdjust="spacingAndGlyphs">=</text>
<text x="427.3" y="345" font-size="13.6" fill="#2e8585" textLength="29.5" lengthAdjust="spacingAndGlyphs">0.901</text>
<text x="472.3" y="295.6" font-size="13.2" font-style="italic" fill="#c27a4a">R</text>
<text x="480.2" y="290.4" font-size="9" fill="#c27a4a">2</text>
<text x="489.5" y="295.6" font-size="13" fill="#c27a4a" textLength="9.2" lengthAdjust="spacingAndGlyphs">=</text>
<text x="498.3" y="295.9" font-size="13.6" fill="#c27a4a" textLength="29.5" lengthAdjust="spacingAndGlyphs">0.709</text>
<line x1="69.38" y1="389.9" x2="69.38" y2="532.3" stroke="#e2e2e2" stroke-width="0.9"/>
<line x1="98.06" y1="389.9" x2="98.06" y2="532.3" stroke="#e2e2e2" stroke-width="0.9"/>
<line x1="126.74" y1="389.9" x2="126.74" y2="532.3" stroke="#e2e2e2" stroke-width="0.9"/>
<line x1="155.42" y1="389.9" x2="155.42" y2="532.3" stroke="#e2e2e2" stroke-width="0.9"/>
<line x1="40.7" y1="494" x2="184.1" y2="494" stroke="#e2e2e2" stroke-width="0.9"/>
<line x1="40.7" y1="459.2" x2="184.1" y2="459.2" stroke="#e2e2e2" stroke-width="0.9"/>
<line x1="40.7" y1="424.4" x2="184.1" y2="424.4" stroke="#e2e2e2" stroke-width="0.9"/>
<line x1="40.7" y1="532.3" x2="40.7" y2="530.7" stroke="#2e2e2e" stroke-width="1"/>
<line x1="40.7" y1="389.9" x2="40.7" y2="391.5" stroke="#2e2e2e" stroke-width="1"/>
<line x1="69.38" y1="532.3" x2="69.38" y2="530.7" stroke="#2e2e2e" stroke-width="1"/>
<line x1="69.38" y1="389.9" x2="69.38" y2="391.5" stroke="#2e2e2e" stroke-width="1"/>
<line x1="98.06" y1="532.3" x2="98.06" y2="530.7" stroke="#2e2e2e" stroke-width="1"/>
<line x1="98.06" y1="389.9" x2="98.06" y2="391.5" stroke="#2e2e2e" stroke-width="1"/>
<line x1="126.74" y1="532.3" x2="126.74" y2="530.7" stroke="#2e2e2e" stroke-width="1"/>
<line x1="126.74" y1="389.9" x2="126.74" y2="391.5" stroke="#2e2e2e" stroke-width="1"/>
<line x1="155.42" y1="532.3" x2="155.42" y2="530.7" stroke="#2e2e2e" stroke-width="1"/>
<line x1="155.42" y1="389.9" x2="155.42" y2="391.5" stroke="#2e2e2e" stroke-width="1"/>
<line x1="184.1" y1="532.3" x2="184.1" y2="530.7" stroke="#2e2e2e" stroke-width="1"/>
<line x1="184.1" y1="389.9" x2="184.1" y2="391.5" stroke="#2e2e2e" stroke-width="1"/>
<line x1="40.7" y1="529.2" x2="42.3" y2="529.2" stroke="#2e2e2e" stroke-width="1"/>
<line x1="184.1" y1="529.2" x2="182.5" y2="529.2" stroke="#2e2e2e" stroke-width="1"/>
<line x1="40.7" y1="494" x2="42.3" y2="494" stroke="#2e2e2e" stroke-width="1"/>
<line x1="184.1" y1="494" x2="182.5" y2="494" stroke="#2e2e2e" stroke-width="1"/>
<line x1="40.7" y1="459.2" x2="42.3" y2="459.2" stroke="#2e2e2e" stroke-width="1"/>
<line x1="184.1" y1="459.2" x2="182.5" y2="459.2" stroke="#2e2e2e" stroke-width="1"/>
<line x1="40.7" y1="424.4" x2="42.3" y2="424.4" stroke="#2e2e2e" stroke-width="1"/>
<line x1="184.1" y1="424.4" x2="182.5" y2="424.4" stroke="#2e2e2e" stroke-width="1"/>
<line x1="40.7" y1="389.9" x2="42.3" y2="389.9" stroke="#2e2e2e" stroke-width="1"/>
<line x1="184.1" y1="389.9" x2="182.5" y2="389.9" stroke="#2e2e2e" stroke-width="1"/>
<text x="40.7" y="549.6" font-size="12.3" fill="#222" text-anchor="middle">0</text>
<text x="69.38" y="549.6" font-size="12.3" fill="#222" text-anchor="middle">0.2</text>
<text x="98.06" y="549.6" font-size="12.3" fill="#222" text-anchor="middle">0.4</text>
<text x="126.74" y="549.6" font-size="12.3" fill="#222" text-anchor="middle">0.6</text>
<text x="155.42" y="549.6" font-size="12.3" fill="#222" text-anchor="middle">0.8</text>
<text x="184.1" y="549.6" font-size="12.3" fill="#222" text-anchor="middle">1</text>
<text x="36.1" y="533.7" font-size="12.3" fill="#222" text-anchor="end">0</text>
<text x="36.1" y="498.5" font-size="12.3" fill="#222" text-anchor="end">50</text>
<text x="36.1" y="463.7" font-size="12.3" fill="#222" text-anchor="end">100</text>
<text x="36.1" y="428.9" font-size="12.3" fill="#222" text-anchor="end">150</text>
<text x="36.1" y="394.4" font-size="12.3" fill="#222" text-anchor="end">200</text>
<text x="111.8" y="563.5" font-size="13.7" fill="#222" text-anchor="middle">fCover</text>
<text transform="translate(13.2,487.35) rotate(-90)" font-size="12.45" fill="#222" textLength="56.7" lengthAdjust="spacingAndGlyphs">rRMSE(%)</text>
<rect x="40.7" y="389.9" width="143.4" height="142.4" fill="none" stroke="#2e2e2e" stroke-width="1.15"/>
<polyline points="46,478 48.68,480.29 51.36,482.5 54.04,484.59 56.72,486.49 59.4,488.16 62.08,489.6 64.76,490.93 67.44,492.15 70.12,493.29 72.8,494.36 75.48,495.39 78.16,496.38 80.84,497.35 83.52,498.33 86.2,499.32 88.88,500.35 91.56,501.43 94.24,502.55 96.92,503.66 99.6,504.75 102.28,505.77 104.96,506.7 107.64,507.5 110.32,508.18 113,508.78 115.68,509.33 118.36,509.83 121.04,510.3 123.72,510.75 126.4,511.19 129.08,511.65 131.76,512.12 134.44,512.63 137.12,513.19 139.8,513.82 142.48,514.54 145.16,515.35 147.84,516.2 150.52,517.05 153.2,517.86 155.88,518.59 158.56,519.22 161.24,519.72 163.92,520.17 166.6,520.58 169.28,520.94 171.96,521.25 174.64,521.48 177.32,521.65 180,521.8" fill="none" stroke="#2d7f86" stroke-width="1.1"/>
<polyline points="50,458.2 52.26,459.47 54.52,460.74 56.78,462.02 59.04,463.29 61.3,464.56 63.56,465.83 65.82,467.1 68.08,468.38 70.34,469.65 72.6,470.92 74.86,472.19 77.12,473.46 79.38,474.74 81.64,476.01 83.9,477.28 86.16,478.55 88.42,479.82 90.68,481.1 92.94,482.37 95.2,483.64 97.46,484.91 99.72,486.18 101.98,487.46 104.24,488.73 106.5,490 108.76,491.27 111.02,492.54 113.28,493.82 115.54,495.09 117.8,496.36 120.06,497.63 122.32,498.9 124.58,500.18 126.84,501.45 129.1,502.72 131.36,503.99 133.62,505.26 135.88,506.54 138.14,507.81 140.4,509.08 142.66,510.35 144.92,511.62 147.18,512.9 149.44,514.17 151.7,515.44 153.96,516.71 156.22,517.98 158.48,519.26 160.74,520.53 163,521.8" fill="none" stroke="#c9703a" stroke-width="1.1"/>
<path d="M41.4,472H52.4L46.9,481.2Z" fill="#17a9ad" stroke="#0f7f80" stroke-width="0.8"/>
<path d="M49.6,469.7H60.6L55.1,478.9Z" fill="#17a9ad" stroke="#0f7f80" stroke-width="0.8"/>
<path d="M48,476.9H59L53.5,486.1Z" fill="#17a9ad" stroke="#0f7f80" stroke-width="0.8"/>
<path d="M60.1,477.8H71.1L65.6,487Z" fill="#17a9ad" stroke="#0f7f80" stroke-width="0.8"/>
<path d="M51.8,492.5H62.8L57.3,501.7Z" fill="#17a9ad" stroke="#0f7f80" stroke-width="0.8"/>
<path d="M55.6,490.5H66.6L61.1,499.7Z" fill="#17a9ad" stroke="#0f7f80" stroke-width="0.8"/>
<path d="M62.7,495.5H73.7L68.2,504.7Z" fill="#17a9ad" stroke="#0f7f80" stroke-width="0.8"/>
<path d="M67.6,489H78.6L73.1,498.2Z" fill="#17a9ad" stroke="#0f7f80" stroke-width="0.8"/>
<path d="M73,499.5H84L78.5,508.7Z" fill="#17a9ad" stroke="#0f7f80" stroke-width="0.8"/>
<path d="M75.2,495.5H86.2L80.7,504.7Z" fill="#17a9ad" stroke="#0f7f80" stroke-width="0.8"/>
<path d="M85.8,502.8H96.8L91.3,512Z" fill="#17a9ad" stroke="#0f7f80" stroke-width="0.8"/>
<path d="M94.9,502.5H105.9L100.4,511.7Z" fill="#17a9ad" stroke="#0f7f80" stroke-width="0.8"/>
<path d="M106.3,498.5H117.3L111.8,507.7Z" fill="#17a9ad" stroke="#0f7f80" stroke-width="0.8"/>
<path d="M102,509.2H113L107.5,518.4Z" fill="#17a9ad" stroke="#0f7f80" stroke-width="0.8"/>
<path d="M111.2,507.5H122.2L116.7,516.7Z" fill="#17a9ad" stroke="#0f7f80" stroke-width="0.8"/>
<path d="M116.1,513.1H127.1L121.6,522.3Z" fill="#17a9ad" stroke="#0f7f80" stroke-width="0.8"/>
<path d="M126.5,508H137.5L132,517.2Z" fill="#17a9ad" stroke="#0f7f80" stroke-width="0.8"/>
<path d="M128.8,515.5H139.8L134.3,524.7Z" fill="#17a9ad" stroke="#0f7f80" stroke-width="0.8"/>
<path d="M140,520.1H151L145.5,529.3Z" fill="#17a9ad" stroke="#0f7f80" stroke-width="0.8"/>
<path d="M145.8,515.9H156.8L151.3,525.1Z" fill="#17a9ad" stroke="#0f7f80" stroke-width="0.8"/>
<path d="M153.7,521H164.7L159.2,530.2Z" fill="#17a9ad" stroke="#0f7f80" stroke-width="0.8"/>
<path d="M164.3,521.5H175.3L169.8,530.7Z" fill="#17a9ad" stroke="#0f7f80" stroke-width="0.8"/>
<path d="M168.5,521.5H179.5L174,530.7Z" fill="#17a9ad" stroke="#0f7f80" stroke-width="0.8"/>
<path d="M176.7,524.5H187.7L182.2,533.7Z" fill="#17a9ad" stroke="#0f7f80" stroke-width="0.8"/>
<rect x="57.7" y="421.4" width="7.2" height="6.8" fill="#fbb40c" stroke="#e7741c" stroke-width="0.9"/>
<rect x="53.2" y="440.5" width="7.2" height="6.8" fill="#fbb40c" stroke="#e7741c" stroke-width="0.9"/>
<rect x="73.1" y="453.4" width="7.2" height="6.8" fill="#fbb40c" stroke="#e7741c" stroke-width="0.9"/>
<rect x="75.1" y="451.2" width="7.2" height="6.8" fill="#fbb40c" stroke="#e7741c" stroke-width="0.9"/>
<rect x="49" y="456.1" width="7.2" height="6.8" fill="#fbb40c" stroke="#e7741c" stroke-width="0.9"/>
<rect x="64.6" y="461.5" width="7.2" height="6.8" fill="#fbb40c" stroke="#e7741c" stroke-width="0.9"/>
<rect x="106.9" y="464.3" width="7.2" height="6.8" fill="#fbb40c" stroke="#e7741c" stroke-width="0.9"/>
<rect x="96.1" y="469.4" width="7.2" height="6.8" fill="#fbb40c" stroke="#e7741c" stroke-width="0.9"/>
<rect x="87.7" y="473.2" width="7.2" height="6.8" fill="#fbb40c" stroke="#e7741c" stroke-width="0.9"/>
<rect x="51.4" y="471.8" width="7.2" height="6.8" fill="#fbb40c" stroke="#e7741c" stroke-width="0.9"/>
<rect x="44.2" y="478.8" width="7.2" height="6.8" fill="#fbb40c" stroke="#e7741c" stroke-width="0.9"/>
<rect x="62.4" y="480.2" width="7.2" height="6.8" fill="#fbb40c" stroke="#e7741c" stroke-width="0.9"/>
<rect x="68.9" y="478.8" width="7.2" height="6.8" fill="#fbb40c" stroke="#e7741c" stroke-width="0.9"/>
<rect x="76" y="478.8" width="7.2" height="6.8" fill="#fbb40c" stroke="#e7741c" stroke-width="0.9"/>
<rect x="86.9" y="492.6" width="7.2" height="6.8" fill="#fbb40c" stroke="#e7741c" stroke-width="0.9"/>
<rect x="113.1" y="490.7" width="7.2" height="6.8" fill="#fbb40c" stroke="#e7741c" stroke-width="0.9"/>
<rect x="103.3" y="494.8" width="7.2" height="6.8" fill="#fbb40c" stroke="#e7741c" stroke-width="0.9"/>
<rect x="127.9" y="493.4" width="7.2" height="6.8" fill="#fbb40c" stroke="#e7741c" stroke-width="0.9"/>
<rect x="97.9" y="505" width="7.2" height="6.8" fill="#fbb40c" stroke="#e7741c" stroke-width="0.9"/>
<rect x="118" y="509.9" width="7.2" height="6.8" fill="#fbb40c" stroke="#e7741c" stroke-width="0.9"/>
<rect x="130.6" y="509.9" width="7.2" height="6.8" fill="#fbb40c" stroke="#e7741c" stroke-width="0.9"/>
<rect x="142" y="519.7" width="7.2" height="6.8" fill="#fbb40c" stroke="#e7741c" stroke-width="0.9"/>
<rect x="146.4" y="512.8" width="7.2" height="6.8" fill="#fbb40c" stroke="#e7741c" stroke-width="0.9"/>
<rect x="155.6" y="521.3" width="7.2" height="6.8" fill="#fbb40c" stroke="#e7741c" stroke-width="0.9"/>
<rect x="166.2" y="522.4" width="7.2" height="6.8" fill="#fbb40c" stroke="#e7741c" stroke-width="0.9"/>
<rect x="169.5" y="523" width="7.2" height="6.8" fill="#fbb40c" stroke="#e7741c" stroke-width="0.9"/>
<rect x="173.3" y="523" width="7.2" height="6.8" fill="#fbb40c" stroke="#e7741c" stroke-width="0.9"/>
<rect x="178.8" y="524.1" width="7.2" height="6.8" fill="#fbb40c" stroke="#e7741c" stroke-width="0.9"/>
<text x="103" y="407.2" font-size="12.3" fill="#222" stroke="#222" stroke-width="0.12" textLength="22.1" lengthAdjust="spacingAndGlyphs">SZA</text>
<text x="129.4" y="407.2" font-size="12" fill="#222" stroke="#222" stroke-width="0.12" textLength="8.8" lengthAdjust="spacingAndGlyphs">=</text>
<text x="143.9" y="407.2" font-size="12" fill="#222" stroke="#222" stroke-width="0.12" textLength="15.5" lengthAdjust="spacingAndGlyphs">65°</text>
<text x="161.1" y="407.2" font-size="12" fill="#222" stroke="#222" stroke-width="0.08" textLength="14.7" lengthAdjust="spacing">(g)</text>
<text x="45.1" y="525.3" font-size="13.2" font-style="italic" fill="#2e8585">R</text>
<text x="53" y="520.1" font-size="9" fill="#2e8585">2</text>
<text x="62.3" y="525.3" font-size="13" fill="#2e8585" textLength="9.2" lengthAdjust="spacingAndGlyphs">=</text>
<text x="71.1" y="525.6" font-size="13.6" fill="#2e8585" textLength="29.5" lengthAdjust="spacingAndGlyphs">0.897</text>
<text x="121.1" y="485.8" font-size="13.2" font-style="italic" fill="#c27a4a">R</text>
<text x="129" y="480.6" font-size="9" fill="#c27a4a">2</text>
<text x="138.3" y="485.8" font-size="13" fill="#c27a4a" textLength="9.2" lengthAdjust="spacingAndGlyphs">=</text>
<text x="147.1" y="486.1" font-size="13.6" fill="#c27a4a" textLength="29.5" lengthAdjust="spacingAndGlyphs">0.728</text>
<line x1="248.18" y1="389.9" x2="248.18" y2="532.3" stroke="#e2e2e2" stroke-width="0.9"/>
<line x1="276.86" y1="389.9" x2="276.86" y2="532.3" stroke="#e2e2e2" stroke-width="0.9"/>
<line x1="305.54" y1="389.9" x2="305.54" y2="532.3" stroke="#e2e2e2" stroke-width="0.9"/>
<line x1="334.22" y1="389.9" x2="334.22" y2="532.3" stroke="#e2e2e2" stroke-width="0.9"/>
<line x1="219.5" y1="493.7" x2="362.9" y2="493.7" stroke="#e2e2e2" stroke-width="0.9"/>
<line x1="219.5" y1="459" x2="362.9" y2="459" stroke="#e2e2e2" stroke-width="0.9"/>
<line x1="219.5" y1="424.3" x2="362.9" y2="424.3" stroke="#e2e2e2" stroke-width="0.9"/>
<line x1="219.5" y1="532.3" x2="219.5" y2="530.7" stroke="#2e2e2e" stroke-width="1"/>
<line x1="219.5" y1="389.9" x2="219.5" y2="391.5" stroke="#2e2e2e" stroke-width="1"/>
<line x1="248.18" y1="532.3" x2="248.18" y2="530.7" stroke="#2e2e2e" stroke-width="1"/>
<line x1="248.18" y1="389.9" x2="248.18" y2="391.5" stroke="#2e2e2e" stroke-width="1"/>
<line x1="276.86" y1="532.3" x2="276.86" y2="530.7" stroke="#2e2e2e" stroke-width="1"/>
<line x1="276.86" y1="389.9" x2="276.86" y2="391.5" stroke="#2e2e2e" stroke-width="1"/>
<line x1="305.54" y1="532.3" x2="305.54" y2="530.7" stroke="#2e2e2e" stroke-width="1"/>
<line x1="305.54" y1="389.9" x2="305.54" y2="391.5" stroke="#2e2e2e" stroke-width="1"/>
<line x1="334.22" y1="532.3" x2="334.22" y2="530.7" stroke="#2e2e2e" stroke-width="1"/>
<line x1="334.22" y1="389.9" x2="334.22" y2="391.5" stroke="#2e2e2e" stroke-width="1"/>
<line x1="362.9" y1="532.3" x2="362.9" y2="530.7" stroke="#2e2e2e" stroke-width="1"/>
<line x1="362.9" y1="389.9" x2="362.9" y2="391.5" stroke="#2e2e2e" stroke-width="1"/>
<line x1="219.5" y1="528.6" x2="221.1" y2="528.6" stroke="#2e2e2e" stroke-width="1"/>
<line x1="362.9" y1="528.6" x2="361.3" y2="528.6" stroke="#2e2e2e" stroke-width="1"/>
<line x1="219.5" y1="493.7" x2="221.1" y2="493.7" stroke="#2e2e2e" stroke-width="1"/>
<line x1="362.9" y1="493.7" x2="361.3" y2="493.7" stroke="#2e2e2e" stroke-width="1"/>
<line x1="219.5" y1="459" x2="221.1" y2="459" stroke="#2e2e2e" stroke-width="1"/>
<line x1="362.9" y1="459" x2="361.3" y2="459" stroke="#2e2e2e" stroke-width="1"/>
<line x1="219.5" y1="424.3" x2="221.1" y2="424.3" stroke="#2e2e2e" stroke-width="1"/>
<line x1="362.9" y1="424.3" x2="361.3" y2="424.3" stroke="#2e2e2e" stroke-width="1"/>
<line x1="219.5" y1="389.9" x2="221.1" y2="389.9" stroke="#2e2e2e" stroke-width="1"/>
<line x1="362.9" y1="389.9" x2="361.3" y2="389.9" stroke="#2e2e2e" stroke-width="1"/>
<text x="219.5" y="549.6" font-size="12.3" fill="#222" text-anchor="middle">0</text>
<text x="248.18" y="549.6" font-size="12.3" fill="#222" text-anchor="middle">0.2</text>
<text x="276.86" y="549.6" font-size="12.3" fill="#222" text-anchor="middle">0.4</text>
<text x="305.54" y="549.6" font-size="12.3" fill="#222" text-anchor="middle">0.6</text>
<text x="334.22" y="549.6" font-size="12.3" fill="#222" text-anchor="middle">0.8</text>
<text x="362.9" y="549.6" font-size="12.3" fill="#222" text-anchor="middle">1</text>
<text x="214.9" y="533.1" font-size="12.3" fill="#222" text-anchor="end">0</text>
<text x="214.9" y="498.2" font-size="12.3" fill="#222" text-anchor="end">50</text>
<text x="214.9" y="463.5" font-size="12.3" fill="#222" text-anchor="end">100</text>
<text x="214.9" y="428.8" font-size="12.3" fill="#222" text-anchor="end">150</text>
<text x="214.9" y="394.4" font-size="12.3" fill="#222" text-anchor="end">200</text>
<text x="290.6" y="563.5" font-size="13.7" fill="#222" text-anchor="middle">fCover</text>
<rect x="219.5" y="389.9" width="143.4" height="142.4" fill="none" stroke="#2e2e2e" stroke-width="1.15"/>
<polyline points="226,475 228.58,477.11 231.16,479.11 233.74,480.98 236.32,482.73 238.9,484.41 241.48,486.04 244.06,487.64 246.64,489.24 249.22,490.86 251.8,492.49 254.38,494.11 256.96,495.69 259.54,497.19 262.12,498.6 264.7,499.97 267.28,501.3 269.86,502.6 272.44,503.85 275.02,505.07 277.6,506.23 280.18,507.34 282.76,508.4 285.34,509.42 287.92,510.41 290.5,511.36 293.08,512.28 295.66,513.16 298.24,514.01 300.82,514.81 303.4,515.56 305.98,516.27 308.56,516.97 311.14,517.66 313.72,518.32 316.3,518.94 318.88,519.51 321.46,519.99 324.04,520.38 326.62,520.68 329.2,520.93 331.78,521.15 334.36,521.34 336.94,521.52 339.52,521.68 342.1,521.85 344.68,522.03 347.26,522.2 349.84,522.37 352.42,522.54 355,522.7" fill="none" stroke="#2d7f86" stroke-width="1.1"/>
<polyline points="227.5,441.23 229.71,443.17 231.92,445.11 234.13,447.03 236.34,448.94 238.55,450.83 240.76,452.71 242.97,454.57 245.18,456.42 247.39,458.26 249.6,460.09 251.81,461.9 254.02,463.69 256.23,465.47 258.44,467.24 260.65,469 262.86,470.74 265.07,472.46 267.28,474.18 269.49,475.87 271.7,477.56 273.91,479.23 276.12,480.89 278.33,482.53 280.54,484.16 282.75,485.78 284.96,487.38 287.17,488.97 289.38,490.54 291.59,492.1 293.8,493.65 296.01,495.18 298.22,496.7 300.43,498.2 302.64,499.7 304.85,501.17 307.06,502.64 309.27,504.09 311.48,505.52 313.69,506.94 315.9,508.35 318.11,509.74 320.32,511.12 322.53,512.49 324.74,513.84 326.95,515.18 329.16,516.51 331.37,517.82 333.58,519.11 335.79,520.4 338,521.67" fill="none" stroke="#c9703a" stroke-width="1.1"/>
<path d="M220.4,471H231.4L225.9,480.2Z" fill="#17a9ad" stroke="#0f7f80" stroke-width="0.8"/>
<path d="M228,467.5H239L233.5,476.7Z" fill="#17a9ad" stroke="#0f7f80" stroke-width="0.8"/>
<path d="M225.9,473.5H236.9L231.4,482.7Z" fill="#17a9ad" stroke="#0f7f80" stroke-width="0.8"/>
<path d="M238.4,469.8H249.4L243.9,479Z" fill="#17a9ad" stroke="#0f7f80" stroke-width="0.8"/>
<path d="M230.8,488.5H241.8L236.3,497.7Z" fill="#17a9ad" stroke="#0f7f80" stroke-width="0.8"/>
<path d="M235.1,489.5H246.1L240.6,498.7Z" fill="#17a9ad" stroke="#0f7f80" stroke-width="0.8"/>
<path d="M241.1,489.7H252.1L246.6,498.9Z" fill="#17a9ad" stroke="#0f7f80" stroke-width="0.8"/>
<path d="M247.1,483.5H258.1L252.6,492.7Z" fill="#17a9ad" stroke="#0f7f80" stroke-width="0.8"/>
<path d="M252,496.5H263L257.5,505.7Z" fill="#17a9ad" stroke="#0f7f80" stroke-width="0.8"/>
<path d="M264.3,500.5H275.3L269.8,509.7Z" fill="#17a9ad" stroke="#0f7f80" stroke-width="0.8"/>
<path d="M280.5,506.9H291.5L286,516.1Z" fill="#17a9ad" stroke="#0f7f80" stroke-width="0.8"/>
<path d="M284.8,501.5H295.8L290.3,510.7Z" fill="#17a9ad" stroke="#0f7f80" stroke-width="0.8"/>
<path d="M294.7,514H305.7L300.2,523.2Z" fill="#17a9ad" stroke="#0f7f80" stroke-width="0.8"/>
<path d="M302.3,506H313.3L307.8,515.2Z" fill="#17a9ad" stroke="#0f7f80" stroke-width="0.8"/>
<path d="M307.1,515.8H318.1L312.6,525Z" fill="#17a9ad" stroke="#0f7f80" stroke-width="0.8"/>
<path d="M318.6,520.8H329.6L324.1,530Z" fill="#17a9ad" stroke="#0f7f80" stroke-width="0.8"/>
<path d="M324.6,517H335.6L330.1,526.2Z" fill="#17a9ad" stroke="#0f7f80" stroke-width="0.8"/>
<path d="M332.2,524.5H343.2L337.7,533.7Z" fill="#17a9ad" stroke="#0f7f80" stroke-width="0.8"/>
<path d="M336.5,517.5H347.5L342,526.7Z" fill="#17a9ad" stroke="#0f7f80" stroke-width="0.8"/>
<path d="M345.3,525.5H356.3L350.8,534.7Z" fill="#17a9ad" stroke="#0f7f80" stroke-width="0.8"/>
<path d="M353,525.5H364L358.5,534.7Z" fill="#17a9ad" stroke="#0f7f80" stroke-width="0.8"/>
<rect x="236.5" y="404.7" width="7.2" height="6.8" fill="#fbb40c" stroke="#e7741c" stroke-width="0.9"/>
<rect x="232.1" y="432.4" width="7.2" height="6.8" fill="#fbb40c" stroke="#e7741c" stroke-width="0.9"/>
<rect x="251.5" y="441.3" width="7.2" height="6.8" fill="#fbb40c" stroke="#e7741c" stroke-width="0.9"/>
<rect x="253.7" y="443" width="7.2" height="6.8" fill="#fbb40c" stroke="#e7741c" stroke-width="0.9"/>
<rect x="227.7" y="443.8" width="7.2" height="6.8" fill="#fbb40c" stroke="#e7741c" stroke-width="0.9"/>
<rect x="243.5" y="452.4" width="7.2" height="6.8" fill="#fbb40c" stroke="#e7741c" stroke-width="0.9"/>
<rect x="230" y="461.4" width="7.2" height="6.8" fill="#fbb40c" stroke="#e7741c" stroke-width="0.9"/>
<rect x="223" y="465.9" width="7.2" height="6.8" fill="#fbb40c" stroke="#e7741c" stroke-width="0.9"/>
<rect x="240.9" y="471.2" width="7.2" height="6.8" fill="#fbb40c" stroke="#e7741c" stroke-width="0.9"/>
<rect x="247.9" y="469.6" width="7.2" height="6.8" fill="#fbb40c" stroke="#e7741c" stroke-width="0.9"/>
<rect x="254.5" y="470.1" width="7.2" height="6.8" fill="#fbb40c" stroke="#e7741c" stroke-width="0.9"/>
<rect x="266.4" y="467.8" width="7.2" height="6.8" fill="#fbb40c" stroke="#e7741c" stroke-width="0.9"/>
<rect x="275" y="466.7" width="7.2" height="6.8" fill="#fbb40c" stroke="#e7741c" stroke-width="0.9"/>
<rect x="286.3" y="465.6" width="7.2" height="6.8" fill="#fbb40c" stroke="#e7741c" stroke-width="0.9"/>
<rect x="265.6" y="487.6" width="7.2" height="6.8" fill="#fbb40c" stroke="#e7741c" stroke-width="0.9"/>
<rect x="282.4" y="492.4" width="7.2" height="6.8" fill="#fbb40c" stroke="#e7741c" stroke-width="0.9"/>
<rect x="292.2" y="491.7" width="7.2" height="6.8" fill="#fbb40c" stroke="#e7741c" stroke-width="0.9"/>
<rect x="306.4" y="495.4" width="7.2" height="6.8" fill="#fbb40c" stroke="#e7741c" stroke-width="0.9"/>
<rect x="276.6" y="502.5" width="7.2" height="6.8" fill="#fbb40c" stroke="#e7741c" stroke-width="0.9"/>
<rect x="296.8" y="508.2" width="7.2" height="6.8" fill="#fbb40c" stroke="#e7741c" stroke-width="0.9"/>
<rect x="309" y="510.6" width="7.2" height="6.8" fill="#fbb40c" stroke="#e7741c" stroke-width="0.9"/>
<rect x="326.5" y="514.8" width="7.2" height="6.8" fill="#fbb40c" stroke="#e7741c" stroke-width="0.9"/>
<rect x="320.5" y="520.2" width="7.2" height="6.8" fill="#fbb40c" stroke="#e7741c" stroke-width="0.9"/>
<rect x="334.1" y="523" width="7.2" height="6.8" fill="#fbb40c" stroke="#e7741c" stroke-width="0.9"/>
<rect x="345" y="523.5" width="7.2" height="6.8" fill="#fbb40c" stroke="#e7741c" stroke-width="0.9"/>
<rect x="349.4" y="523.5" width="7.2" height="6.8" fill="#fbb40c" stroke="#e7741c" stroke-width="0.9"/>
<rect x="352.7" y="523.5" width="7.2" height="6.8" fill="#fbb40c" stroke="#e7741c" stroke-width="0.9"/>
<rect x="357.6" y="523.5" width="7.2" height="6.8" fill="#fbb40c" stroke="#e7741c" stroke-width="0.9"/>
<text x="276.1" y="407.2" font-size="12.3" fill="#222" stroke="#222" stroke-width="0.12" textLength="22.1" lengthAdjust="spacingAndGlyphs">SZA</text>
<text x="302.8" y="407.2" font-size="12" fill="#222" stroke="#222" stroke-width="0.12" textLength="8.8" lengthAdjust="spacingAndGlyphs">=</text>
<text x="317.8" y="407.2" font-size="12" fill="#222" stroke="#222" stroke-width="0.12" textLength="15.5" lengthAdjust="spacingAndGlyphs">70°</text>
<text x="339.1" y="407.2" font-size="12" fill="#222" stroke="#222" stroke-width="0.08" textLength="14.7" lengthAdjust="spacing">(h)</text>
<text x="223.8" y="524.9" font-size="13.2" font-style="italic" fill="#2e8585">R</text>
<text x="231.7" y="519.7" font-size="9" fill="#2e8585">2</text>
<text x="241" y="524.9" font-size="13" fill="#2e8585" textLength="9.2" lengthAdjust="spacingAndGlyphs">=</text>
<text x="249.8" y="525.2" font-size="13.6" fill="#2e8585" textLength="29.5" lengthAdjust="spacingAndGlyphs">0.904</text>
<text x="297.7" y="485" font-size="13.2" font-style="italic" fill="#c27a4a">R</text>
<text x="305.6" y="479.8" font-size="9" fill="#c27a4a">2</text>
<text x="314.9" y="485" font-size="13" fill="#c27a4a" textLength="9.2" lengthAdjust="spacingAndGlyphs">=</text>
<text x="323.7" y="485.3" font-size="13.6" fill="#c27a4a" textLength="29.5" lengthAdjust="spacingAndGlyphs">0.778</text>
<line x1="426.98" y1="389.9" x2="426.98" y2="532.3" stroke="#e2e2e2" stroke-width="0.9"/>
<line x1="455.66" y1="389.9" x2="455.66" y2="532.3" stroke="#e2e2e2" stroke-width="0.9"/>
<line x1="484.34" y1="389.9" x2="484.34" y2="532.3" stroke="#e2e2e2" stroke-width="0.9"/>
<line x1="513.02" y1="389.9" x2="513.02" y2="532.3" stroke="#e2e2e2" stroke-width="0.9"/>
<line x1="398.3" y1="496.3" x2="541.7" y2="496.3" stroke="#e2e2e2" stroke-width="0.9"/>
<line x1="398.3" y1="460.6" x2="541.7" y2="460.6" stroke="#e2e2e2" stroke-width="0.9"/>
<line x1="398.3" y1="425.3" x2="541.7" y2="425.3" stroke="#e2e2e2" stroke-width="0.9"/>
<line x1="398.3" y1="532.3" x2="398.3" y2="530.7" stroke="#2e2e2e" stroke-width="1"/>
<line x1="398.3" y1="389.9" x2="398.3" y2="391.5" stroke="#2e2e2e" stroke-width="1"/>
<line x1="426.98" y1="532.3" x2="426.98" y2="530.7" stroke="#2e2e2e" stroke-width="1"/>
<line x1="426.98" y1="389.9" x2="426.98" y2="391.5" stroke="#2e2e2e" stroke-width="1"/>
<line x1="455.66" y1="532.3" x2="455.66" y2="530.7" stroke="#2e2e2e" stroke-width="1"/>
<line x1="455.66" y1="389.9" x2="455.66" y2="391.5" stroke="#2e2e2e" stroke-width="1"/>
<line x1="484.34" y1="532.3" x2="484.34" y2="530.7" stroke="#2e2e2e" stroke-width="1"/>
<line x1="484.34" y1="389.9" x2="484.34" y2="391.5" stroke="#2e2e2e" stroke-width="1"/>
<line x1="513.02" y1="532.3" x2="513.02" y2="530.7" stroke="#2e2e2e" stroke-width="1"/>
<line x1="513.02" y1="389.9" x2="513.02" y2="391.5" stroke="#2e2e2e" stroke-width="1"/>
<line x1="541.7" y1="532.3" x2="541.7" y2="530.7" stroke="#2e2e2e" stroke-width="1"/>
<line x1="541.7" y1="389.9" x2="541.7" y2="391.5" stroke="#2e2e2e" stroke-width="1"/>
<line x1="398.3" y1="532.1" x2="399.9" y2="532.1" stroke="#2e2e2e" stroke-width="1"/>
<line x1="541.7" y1="532.1" x2="540.1" y2="532.1" stroke="#2e2e2e" stroke-width="1"/>
<line x1="398.3" y1="496.3" x2="399.9" y2="496.3" stroke="#2e2e2e" stroke-width="1"/>
<line x1="541.7" y1="496.3" x2="540.1" y2="496.3" stroke="#2e2e2e" stroke-width="1"/>
<line x1="398.3" y1="460.6" x2="399.9" y2="460.6" stroke="#2e2e2e" stroke-width="1"/>
<line x1="541.7" y1="460.6" x2="540.1" y2="460.6" stroke="#2e2e2e" stroke-width="1"/>
<line x1="398.3" y1="425.3" x2="399.9" y2="425.3" stroke="#2e2e2e" stroke-width="1"/>
<line x1="541.7" y1="425.3" x2="540.1" y2="425.3" stroke="#2e2e2e" stroke-width="1"/>
<line x1="398.3" y1="389.9" x2="399.9" y2="389.9" stroke="#2e2e2e" stroke-width="1"/>
<line x1="541.7" y1="389.9" x2="540.1" y2="389.9" stroke="#2e2e2e" stroke-width="1"/>
<text x="398.3" y="549.6" font-size="12.3" fill="#222" text-anchor="middle">0</text>
<text x="426.98" y="549.6" font-size="12.3" fill="#222" text-anchor="middle">0.2</text>
<text x="455.66" y="549.6" font-size="12.3" fill="#222" text-anchor="middle">0.4</text>
<text x="484.34" y="549.6" font-size="12.3" fill="#222" text-anchor="middle">0.6</text>
<text x="513.02" y="549.6" font-size="12.3" fill="#222" text-anchor="middle">0.8</text>
<text x="541.7" y="549.6" font-size="12.3" fill="#222" text-anchor="middle">1</text>
<text x="393.7" y="536.6" font-size="12.3" fill="#222" text-anchor="end">0</text>
<text x="393.7" y="500.8" font-size="12.3" fill="#222" text-anchor="end">50</text>
<text x="393.7" y="465.1" font-size="12.3" fill="#222" text-anchor="end">100</text>
<text x="393.7" y="429.8" font-size="12.3" fill="#222" text-anchor="end">150</text>
<text x="393.7" y="394.4" font-size="12.3" fill="#222" text-anchor="end">200</text>
<text x="469.4" y="563.5" font-size="13.7" fill="#222" text-anchor="middle">fCover</text>
<rect x="398.3" y="389.9" width="143.4" height="142.4" fill="none" stroke="#2e2e2e" stroke-width="1.15"/>
<polyline points="404,461 406.52,464.13 409.04,467.15 411.56,470.02 414.08,472.72 416.6,475.35 419.12,477.89 421.64,480.35 424.16,482.74 426.68,485.06 429.2,487.3 431.72,489.5 434.24,491.7 436.76,493.9 439.28,496.06 441.8,498.16 444.32,500.19 446.84,502.11 449.36,503.91 451.88,505.55 454.4,507.03 456.92,508.36 459.44,509.64 461.96,510.88 464.48,512.06 467,513.2 469.52,514.29 472.04,515.32 474.56,516.31 477.08,517.25 479.6,518.13 482.12,518.97 484.64,519.75 487.16,520.47 489.68,521.14 492.2,521.77 494.72,522.37 497.24,522.94 499.76,523.5 502.28,524.02 504.8,524.51 507.32,524.97 509.84,525.39 512.36,525.77 514.88,526.1 517.4,526.4 519.92,526.65 522.44,526.89 524.96,527.12 527.48,527.33 530,527.52" fill="none" stroke="#2d7f86" stroke-width="1.1"/>
<polyline points="410.3,429.7 412.69,433.22 415.09,436.65 417.48,439.98 419.88,443.19 422.27,446.32 424.66,449.39 427.06,452.43 429.45,455.44 431.85,458.45 434.24,461.45 436.63,464.4 439.03,467.27 441.42,470.04 443.82,472.76 446.21,475.43 448.6,478.03 451,480.55 453.39,483 455.79,485.36 458.18,487.68 460.57,489.95 462.97,492.17 465.36,494.31 467.76,496.38 470.15,498.35 472.54,500.22 474.94,501.98 477.33,503.64 479.73,505.24 482.12,506.84 484.51,508.48 486.91,510.21 489.3,512 491.7,513.82 494.09,515.62 496.48,517.36 498.88,519 501.27,520.51 503.67,521.84 506.06,522.95 508.45,523.81 510.85,524.55 513.24,525.21 515.64,525.77 518.03,526.22 520.42,526.55 522.82,526.83 525.21,527.09 527.61,527.33 530,527.55" fill="none" stroke="#c9703a" stroke-width="1.1"/>
<path d="M400,448.9H411L405.5,458.1Z" fill="#17a9ad" stroke="#0f7f80" stroke-width="0.8"/>
<path d="M407.6,453.5H418.6L413.1,462.7Z" fill="#17a9ad" stroke="#0f7f80" stroke-width="0.8"/>
<path d="M404.9,463.5H415.9L410.4,472.7Z" fill="#17a9ad" stroke="#0f7f80" stroke-width="0.8"/>
<path d="M418,464.7H429L423.5,473.9Z" fill="#17a9ad" stroke="#0f7f80" stroke-width="0.8"/>
<path d="M424.5,479.5H435.5L430,488.7Z" fill="#17a9ad" stroke="#0f7f80" stroke-width="0.8"/>
<path d="M410.3,486.5H421.3L415.8,495.7Z" fill="#17a9ad" stroke="#0f7f80" stroke-width="0.8"/>
<path d="M420.1,488.5H431.1L425.6,497.7Z" fill="#17a9ad" stroke="#0f7f80" stroke-width="0.8"/>
<path d="M414.7,491.5H425.7L420.2,500.7Z" fill="#17a9ad" stroke="#0f7f80" stroke-width="0.8"/>
<path d="M430,493.5H441L435.5,502.7Z" fill="#17a9ad" stroke="#0f7f80" stroke-width="0.8"/>
<path d="M430.9,503H441.9L436.4,512.2Z" fill="#17a9ad" stroke="#0f7f80" stroke-width="0.8"/>
<path d="M442.9,499.5H453.9L448.4,508.7Z" fill="#17a9ad" stroke="#0f7f80" stroke-width="0.8"/>
<path d="M443.4,506H454.4L448.9,515.2Z" fill="#17a9ad" stroke="#0f7f80" stroke-width="0.8"/>
<path d="M459.2,513H470.2L464.7,522.2Z" fill="#17a9ad" stroke="#0f7f80" stroke-width="0.8"/>
<path d="M463,507.5H474L468.5,516.7Z" fill="#17a9ad" stroke="#0f7f80" stroke-width="0.8"/>
<path d="M474,520.1H485L479.5,529.3Z" fill="#17a9ad" stroke="#0f7f80" stroke-width="0.8"/>
<path d="M483.4,515.5H494.4L488.9,524.7Z" fill="#17a9ad" stroke="#0f7f80" stroke-width="0.8"/>
<path d="M486.3,521.5H497.3L491.8,530.7Z" fill="#17a9ad" stroke="#0f7f80" stroke-width="0.8"/>
<path d="M497.2,525.5H508.2L502.7,534.7Z" fill="#17a9ad" stroke="#0f7f80" stroke-width="0.8"/>
<path d="M503,520.5H514L508.5,529.7Z" fill="#17a9ad" stroke="#0f7f80" stroke-width="0.8"/>
<path d="M511,526.5H522L516.5,535.7Z" fill="#17a9ad" stroke="#0f7f80" stroke-width="0.8"/>
<path d="M524.9,526.8H535.9L530.4,536Z" fill="#17a9ad" stroke="#0f7f80" stroke-width="0.8"/>
<path d="M531.3,525.9H542.3L536.8,535.1Z" fill="#17a9ad" stroke="#0f7f80" stroke-width="0.8"/>
<path d="M534.8,525.1H545.8L540.3,534.3Z" fill="#17a9ad" stroke="#0f7f80" stroke-width="0.8"/>
<rect x="415.5" y="387" width="7.2" height="6.8" fill="#fbb40c" stroke="#e7741c" stroke-width="0.9"/>
<rect x="411.1" y="409.5" width="7.2" height="6.8" fill="#fbb40c" stroke="#e7741c" stroke-width="0.9"/>
<rect x="406.7" y="423.6" width="7.2" height="6.8" fill="#fbb40c" stroke="#e7741c" stroke-width="0.9"/>
<rect x="430.2" y="434.9" width="7.2" height="6.8" fill="#fbb40c" stroke="#e7741c" stroke-width="0.9"/>
<rect x="432.5" y="436.3" width="7.2" height="6.8" fill="#fbb40c" stroke="#e7741c" stroke-width="0.9"/>
<rect x="422.4" y="444.6" width="7.2" height="6.8" fill="#fbb40c" stroke="#e7741c" stroke-width="0.9"/>
<rect x="408.7" y="449.6" width="7.2" height="6.8" fill="#fbb40c" stroke="#e7741c" stroke-width="0.9"/>
<rect x="401.9" y="462.2" width="7.2" height="6.8" fill="#fbb40c" stroke="#e7741c" stroke-width="0.9"/>
<rect x="419.9" y="464.4" width="7.2" height="6.8" fill="#fbb40c" stroke="#e7741c" stroke-width="0.9"/>
<rect x="426.4" y="466.6" width="7.2" height="6.8" fill="#fbb40c" stroke="#e7741c" stroke-width="0.9"/>
<rect x="432.9" y="468.2" width="7.2" height="6.8" fill="#fbb40c" stroke="#e7741c" stroke-width="0.9"/>
<rect x="445" y="471.9" width="7.2" height="6.8" fill="#fbb40c" stroke="#e7741c" stroke-width="0.9"/>
<rect x="453.3" y="469.3" width="7.2" height="6.8" fill="#fbb40c" stroke="#e7741c" stroke-width="0.9"/>
<rect x="464.8" y="470.4" width="7.2" height="6.8" fill="#fbb40c" stroke="#e7741c" stroke-width="0.9"/>
<rect x="444.5" y="491.8" width="7.2" height="6.8" fill="#fbb40c" stroke="#e7741c" stroke-width="0.9"/>
<rect x="461.1" y="499.5" width="7.2" height="6.8" fill="#fbb40c" stroke="#e7741c" stroke-width="0.9"/>
<rect x="470.9" y="499" width="7.2" height="6.8" fill="#fbb40c" stroke="#e7741c" stroke-width="0.9"/>
<rect x="455.1" y="508.2" width="7.2" height="6.8" fill="#fbb40c" stroke="#e7741c" stroke-width="0.9"/>
<rect x="474.9" y="514.5" width="7.2" height="6.8" fill="#fbb40c" stroke="#e7741c" stroke-width="0.9"/>
<rect x="485.3" y="503.5" width="7.2" height="6.8" fill="#fbb40c" stroke="#e7741c" stroke-width="0.9"/>
<rect x="487.9" y="517.6" width="7.2" height="6.8" fill="#fbb40c" stroke="#e7741c" stroke-width="0.9"/>
<rect x="499.1" y="526.1" width="7.2" height="6.8" fill="#fbb40c" stroke="#e7741c" stroke-width="0.9"/>
<rect x="504.9" y="523.1" width="7.2" height="6.8" fill="#fbb40c" stroke="#e7741c" stroke-width="0.9"/>
<rect x="513.2" y="525.8" width="7.2" height="6.8" fill="#fbb40c" stroke="#e7741c" stroke-width="0.9"/>
<rect x="523.1" y="525.3" width="7.2" height="6.8" fill="#fbb40c" stroke="#e7741c" stroke-width="0.9"/>
<rect x="526.8" y="524.6" width="7.2" height="6.8" fill="#fbb40c" stroke="#e7741c" stroke-width="0.9"/>
<rect x="531.1" y="524.6" width="7.2" height="6.8" fill="#fbb40c" stroke="#e7741c" stroke-width="0.9"/>
<rect x="536.2" y="525.3" width="7.2" height="6.8" fill="#fbb40c" stroke="#e7741c" stroke-width="0.9"/>
<text x="458.9" y="407.2" font-size="12.3" fill="#222" stroke="#222" stroke-width="0.12" textLength="22.1" lengthAdjust="spacingAndGlyphs">SZA</text>
<text x="486.4" y="407.2" font-size="12" fill="#222" stroke="#222" stroke-width="0.12" textLength="8.8" lengthAdjust="spacingAndGlyphs">=</text>
<text x="500.4" y="407.2" font-size="12" fill="#222" stroke="#222" stroke-width="0.12" textLength="15.5" lengthAdjust="spacingAndGlyphs">75°</text>
<text x="522.2" y="407.2" font-size="12" fill="#222" stroke="#222" stroke-width="0.08" textLength="11.5" lengthAdjust="spacing">(i)</text>
<text x="404" y="525.5" font-size="13.2" font-style="italic" fill="#2e8585">R</text>
<text x="411.9" y="520.3" font-size="9" fill="#2e8585">2</text>
<text x="421.2" y="525.5" font-size="13" fill="#2e8585" textLength="9.2" lengthAdjust="spacingAndGlyphs">=</text>
<text x="430" y="525.8" font-size="13.6" fill="#2e8585" textLength="16.55" lengthAdjust="spacingAndGlyphs">0.9</text>
<text x="478.9" y="490.8" font-size="13.2" font-style="italic" fill="#c27a4a">R</text>
<text x="486.8" y="485.6" font-size="9" fill="#c27a4a">2</text>
<text x="496.1" y="490.8" font-size="13" fill="#c27a4a" textLength="9.2" lengthAdjust="spacingAndGlyphs">=</text>
<text x="504.9" y="491.1" font-size="13.6" fill="#c27a4a" textLength="29.5" lengthAdjust="spacingAndGlyphs">0.787</text>
<rect x="100.8" y="575" width="357.6" height="28.5" fill="#fff" stroke="#444" stroke-width="1.1"/>
<path d="M138.6,587.4H145.6L142.1,593.4Z" fill="#17a9ad" stroke="#0f7f80" stroke-width="0.6"/>
<text x="157.5" y="594.2" font-size="12.2" fill="#222" textLength="118.5" lengthAdjust="spacingAndGlyphs">SAA = 90° (across row)</text>
<rect x="292.6" y="587.2" width="5" height="5" fill="#fbb40c" stroke="#e7741c" stroke-width="0.8"/>
<text x="311" y="594.2" font-size="12.2" fill="#222" textLength="118" lengthAdjust="spacingAndGlyphs">SAA =180° (along row)</text>
</svg></body></html>
